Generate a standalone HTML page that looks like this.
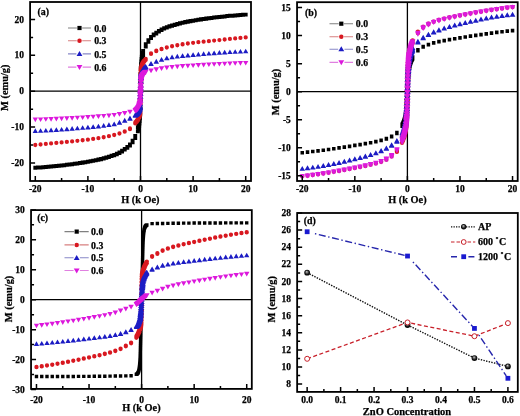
<!DOCTYPE html>
<html><head><meta charset="utf-8"><style>
html,body{margin:0;padding:0;background:#fff;width:520px;height:416px;overflow:hidden}
svg{display:block}
</style></head><body>
<svg width="520" height="416" viewBox="0 0 520 416">
<g font-family='"Liberation Serif", "Times New Roman", serif' font-weight="bold" fill="#000"><style>text{stroke:#000;stroke-width:0.25px}</style>
<rect width="520" height="416" fill="#fff"/>
<path d="M30.1 91.2H251M140.5 2V181" stroke="#000" stroke-width="1.3"/>
<path d="M33.35 165.78h3.9v3.9h-3.9zM35.98 165.61h3.9v3.9h-3.9zM38.61 165.42h3.9v3.9h-3.9zM41.24 165.22h3.9v3.9h-3.9zM43.87 165h3.9v3.9h-3.9zM46.5 164.77h3.9v3.9h-3.9zM49.13 164.53h3.9v3.9h-3.9zM51.76 164.28h3.9v3.9h-3.9zM54.39 164.01h3.9v3.9h-3.9zM57.02 163.73h3.9v3.9h-3.9zM59.65 163.44h3.9v3.9h-3.9zM62.28 163.13h3.9v3.9h-3.9zM64.91 162.82h3.9v3.9h-3.9zM67.54 162.48h3.9v3.9h-3.9zM70.17 162.14h3.9v3.9h-3.9zM72.8 161.77h3.9v3.9h-3.9zM75.43 161.39h3.9v3.9h-3.9zM78.06 160.99h3.9v3.9h-3.9zM80.69 160.58h3.9v3.9h-3.9zM83.32 160.14h3.9v3.9h-3.9zM85.95 159.69h3.9v3.9h-3.9zM88.58 159.21h3.9v3.9h-3.9zM91.21 158.72h3.9v3.9h-3.9zM93.84 158.19h3.9v3.9h-3.9zM96.47 157.61h3.9v3.9h-3.9zM99.1 156.97h3.9v3.9h-3.9zM101.73 156.27h3.9v3.9h-3.9zM104.36 155.51h3.9v3.9h-3.9zM106.99 154.69h3.9v3.9h-3.9zM109.62 153.82h3.9v3.9h-3.9zM112.25 152.89h3.9v3.9h-3.9zM114.88 151.79h3.9v3.9h-3.9zM117.51 150.46h3.9v3.9h-3.9zM120.14 148.78h3.9v3.9h-3.9zM122.77 147h3.9v3.9h-3.9zM125.4 145.12h3.9v3.9h-3.9zM128.03 142.41h3.9v3.9h-3.9zM130.66 138.68h3.9v3.9h-3.9zM133.29 133.96h3.9v3.9h-3.9zM135.92 125.47h3.9v3.9h-3.9zM136.45 121.52h3.9v3.9h-3.9zM136.71 119.12h3.9v3.9h-3.9zM136.97 116.29h3.9v3.9h-3.9zM137.24 112.56h3.9v3.9h-3.9zM137.5 106.32h3.9v3.9h-3.9zM137.76 98.22h3.9v3.9h-3.9zM138.02 89.25h3.9v3.9h-3.9zM138.29 80.29h3.9v3.9h-3.9zM138.55 72.18h3.9v3.9h-3.9zM138.81 65.94h3.9v3.9h-3.9zM139.08 62.21h3.9v3.9h-3.9zM139.34 59.38h3.9v3.9h-3.9zM139.6 56.98h3.9v3.9h-3.9zM139.87 54.76h3.9v3.9h-3.9zM140.13 53.03h3.9v3.9h-3.9zM140.39 51.81h3.9v3.9h-3.9zM140.65 50.8h3.9v3.9h-3.9zM141.18 49.09h3.9v3.9h-3.9zM143.81 42.33h3.9v3.9h-3.9zM146.44 38.27h3.9v3.9h-3.9zM149.07 34.89h3.9v3.9h-3.9zM151.7 32.55h3.9v3.9h-3.9zM154.33 30.8h3.9v3.9h-3.9zM156.96 29.01h3.9v3.9h-3.9zM159.59 27.48h3.9v3.9h-3.9zM162.22 26.25h3.9v3.9h-3.9zM164.85 25.23h3.9v3.9h-3.9zM167.48 24.33h3.9v3.9h-3.9zM170.11 23.48h3.9v3.9h-3.9zM172.74 22.68h3.9v3.9h-3.9zM175.37 21.94h3.9v3.9h-3.9zM178 21.27h3.9v3.9h-3.9zM180.63 20.65h3.9v3.9h-3.9zM183.26 20.09h3.9v3.9h-3.9zM185.89 19.58h3.9v3.9h-3.9zM188.52 19.09h3.9v3.9h-3.9zM191.15 18.63h3.9v3.9h-3.9zM193.78 18.18h3.9v3.9h-3.9zM196.41 17.75h3.9v3.9h-3.9zM199.04 17.34h3.9v3.9h-3.9zM201.67 16.95h3.9v3.9h-3.9zM204.3 16.58h3.9v3.9h-3.9zM206.93 16.22h3.9v3.9h-3.9zM209.56 15.88h3.9v3.9h-3.9zM212.19 15.56h3.9v3.9h-3.9zM214.82 15.24h3.9v3.9h-3.9zM217.45 14.94h3.9v3.9h-3.9zM220.08 14.66h3.9v3.9h-3.9zM222.71 14.38h3.9v3.9h-3.9zM225.34 14.12h3.9v3.9h-3.9zM227.97 13.87h3.9v3.9h-3.9zM230.6 13.63h3.9v3.9h-3.9zM233.23 13.41h3.9v3.9h-3.9zM235.86 13.2h3.9v3.9h-3.9zM238.49 13h3.9v3.9h-3.9zM241.12 12.82h3.9v3.9h-3.9zM243.75 12.66h3.9v3.9h-3.9zM33.35 165.84h3.9v3.9h-3.9zM35.98 165.68h3.9v3.9h-3.9zM38.61 165.5h3.9v3.9h-3.9zM41.24 165.3h3.9v3.9h-3.9zM43.87 165.09h3.9v3.9h-3.9zM46.5 164.87h3.9v3.9h-3.9zM49.13 164.63h3.9v3.9h-3.9zM51.76 164.38h3.9v3.9h-3.9zM54.39 164.12h3.9v3.9h-3.9zM57.02 163.84h3.9v3.9h-3.9zM59.65 163.56h3.9v3.9h-3.9zM62.28 163.26h3.9v3.9h-3.9zM64.91 162.94h3.9v3.9h-3.9zM67.54 162.62h3.9v3.9h-3.9zM70.17 162.28h3.9v3.9h-3.9zM72.8 161.92h3.9v3.9h-3.9zM75.43 161.55h3.9v3.9h-3.9zM78.06 161.16h3.9v3.9h-3.9zM80.69 160.75h3.9v3.9h-3.9zM83.32 160.32h3.9v3.9h-3.9zM85.95 159.87h3.9v3.9h-3.9zM88.58 159.41h3.9v3.9h-3.9zM91.21 158.92h3.9v3.9h-3.9zM93.84 158.41h3.9v3.9h-3.9zM96.47 157.85h3.9v3.9h-3.9zM99.1 157.23h3.9v3.9h-3.9zM101.73 156.56h3.9v3.9h-3.9zM104.36 155.82h3.9v3.9h-3.9zM106.99 155.02h3.9v3.9h-3.9zM109.62 154.17h3.9v3.9h-3.9zM112.25 153.27h3.9v3.9h-3.9zM114.88 152.25h3.9v3.9h-3.9zM117.51 151.02h3.9v3.9h-3.9zM120.14 149.49h3.9v3.9h-3.9zM122.77 147.7h3.9v3.9h-3.9zM125.4 145.95h3.9v3.9h-3.9zM128.03 143.61h3.9v3.9h-3.9zM130.66 140.23h3.9v3.9h-3.9zM133.29 136.17h3.9v3.9h-3.9zM135.92 129.41h3.9v3.9h-3.9zM136.45 127.7h3.9v3.9h-3.9zM136.71 126.69h3.9v3.9h-3.9zM136.97 125.47h3.9v3.9h-3.9zM137.24 123.74h3.9v3.9h-3.9zM137.5 121.52h3.9v3.9h-3.9zM137.76 119.12h3.9v3.9h-3.9zM138.02 116.29h3.9v3.9h-3.9zM138.29 112.56h3.9v3.9h-3.9zM138.55 106.32h3.9v3.9h-3.9zM138.81 98.22h3.9v3.9h-3.9zM139.08 89.25h3.9v3.9h-3.9zM139.34 80.29h3.9v3.9h-3.9zM139.6 72.18h3.9v3.9h-3.9zM139.87 65.94h3.9v3.9h-3.9zM140.13 62.21h3.9v3.9h-3.9zM140.39 59.38h3.9v3.9h-3.9zM140.65 56.98h3.9v3.9h-3.9zM141.18 53.03h3.9v3.9h-3.9zM143.81 44.54h3.9v3.9h-3.9zM146.44 39.82h3.9v3.9h-3.9zM149.07 36.09h3.9v3.9h-3.9zM151.7 33.38h3.9v3.9h-3.9zM154.33 31.5h3.9v3.9h-3.9zM156.96 29.72h3.9v3.9h-3.9zM159.59 28.04h3.9v3.9h-3.9zM162.22 26.71h3.9v3.9h-3.9zM164.85 25.61h3.9v3.9h-3.9zM167.48 24.68h3.9v3.9h-3.9zM170.11 23.81h3.9v3.9h-3.9zM172.74 22.99h3.9v3.9h-3.9zM175.37 22.23h3.9v3.9h-3.9zM178 21.53h3.9v3.9h-3.9zM180.63 20.89h3.9v3.9h-3.9zM183.26 20.31h3.9v3.9h-3.9zM185.89 19.78h3.9v3.9h-3.9zM188.52 19.29h3.9v3.9h-3.9zM191.15 18.81h3.9v3.9h-3.9zM193.78 18.36h3.9v3.9h-3.9zM196.41 17.92h3.9v3.9h-3.9zM199.04 17.51h3.9v3.9h-3.9zM201.67 17.11h3.9v3.9h-3.9zM204.3 16.73h3.9v3.9h-3.9zM206.93 16.36h3.9v3.9h-3.9zM209.56 16.02h3.9v3.9h-3.9zM212.19 15.68h3.9v3.9h-3.9zM214.82 15.37h3.9v3.9h-3.9zM217.45 15.06h3.9v3.9h-3.9zM220.08 14.77h3.9v3.9h-3.9zM222.71 14.49h3.9v3.9h-3.9zM225.34 14.22h3.9v3.9h-3.9zM227.97 13.97h3.9v3.9h-3.9zM230.6 13.73h3.9v3.9h-3.9zM233.23 13.5h3.9v3.9h-3.9zM235.86 13.28h3.9v3.9h-3.9zM238.49 13.08h3.9v3.9h-3.9zM241.12 12.89h3.9v3.9h-3.9zM243.75 12.72h3.9v3.9h-3.9z" fill="#000"/>
<path d="M33.2 144.94a2.1 2.1 0 1 0 4.2 0a2.1 2.1 0 1 0 -4.2 0zM38.46 144.43a2.1 2.1 0 1 0 4.2 0a2.1 2.1 0 1 0 -4.2 0zM43.72 143.91a2.1 2.1 0 1 0 4.2 0a2.1 2.1 0 1 0 -4.2 0zM48.98 143.38a2.1 2.1 0 1 0 4.2 0a2.1 2.1 0 1 0 -4.2 0zM54.24 142.84a2.1 2.1 0 1 0 4.2 0a2.1 2.1 0 1 0 -4.2 0zM59.5 142.31a2.1 2.1 0 1 0 4.2 0a2.1 2.1 0 1 0 -4.2 0zM64.76 141.79a2.1 2.1 0 1 0 4.2 0a2.1 2.1 0 1 0 -4.2 0zM70.02 141.27a2.1 2.1 0 1 0 4.2 0a2.1 2.1 0 1 0 -4.2 0zM75.28 140.74a2.1 2.1 0 1 0 4.2 0a2.1 2.1 0 1 0 -4.2 0zM80.54 140.16a2.1 2.1 0 1 0 4.2 0a2.1 2.1 0 1 0 -4.2 0zM85.8 139.53a2.1 2.1 0 1 0 4.2 0a2.1 2.1 0 1 0 -4.2 0zM91.06 138.82a2.1 2.1 0 1 0 4.2 0a2.1 2.1 0 1 0 -4.2 0zM96.32 138.02a2.1 2.1 0 1 0 4.2 0a2.1 2.1 0 1 0 -4.2 0zM101.58 137.11a2.1 2.1 0 1 0 4.2 0a2.1 2.1 0 1 0 -4.2 0zM106.84 136.05a2.1 2.1 0 1 0 4.2 0a2.1 2.1 0 1 0 -4.2 0zM112.1 134.82a2.1 2.1 0 1 0 4.2 0a2.1 2.1 0 1 0 -4.2 0zM117.36 133.25a2.1 2.1 0 1 0 4.2 0a2.1 2.1 0 1 0 -4.2 0zM122.62 131.25a2.1 2.1 0 1 0 4.2 0a2.1 2.1 0 1 0 -4.2 0zM127.88 128.41a2.1 2.1 0 1 0 4.2 0a2.1 2.1 0 1 0 -4.2 0zM133.14 122.41a2.1 2.1 0 1 0 4.2 0a2.1 2.1 0 1 0 -4.2 0zM133.4 122.15a2.1 2.1 0 1 0 4.2 0a2.1 2.1 0 1 0 -4.2 0zM133.67 121.88a2.1 2.1 0 1 0 4.2 0a2.1 2.1 0 1 0 -4.2 0zM133.93 121.6a2.1 2.1 0 1 0 4.2 0a2.1 2.1 0 1 0 -4.2 0zM134.19 121.3a2.1 2.1 0 1 0 4.2 0a2.1 2.1 0 1 0 -4.2 0zM134.46 120.97a2.1 2.1 0 1 0 4.2 0a2.1 2.1 0 1 0 -4.2 0zM134.72 120.61a2.1 2.1 0 1 0 4.2 0a2.1 2.1 0 1 0 -4.2 0zM134.98 120.21a2.1 2.1 0 1 0 4.2 0a2.1 2.1 0 1 0 -4.2 0zM135.24 119.78a2.1 2.1 0 1 0 4.2 0a2.1 2.1 0 1 0 -4.2 0zM135.51 119.3a2.1 2.1 0 1 0 4.2 0a2.1 2.1 0 1 0 -4.2 0zM135.77 118.75a2.1 2.1 0 1 0 4.2 0a2.1 2.1 0 1 0 -4.2 0zM136.03 118.11a2.1 2.1 0 1 0 4.2 0a2.1 2.1 0 1 0 -4.2 0zM136.3 117.38a2.1 2.1 0 1 0 4.2 0a2.1 2.1 0 1 0 -4.2 0zM136.56 116.61a2.1 2.1 0 1 0 4.2 0a2.1 2.1 0 1 0 -4.2 0zM136.82 115.68a2.1 2.1 0 1 0 4.2 0a2.1 2.1 0 1 0 -4.2 0zM136.93 115.19a2.1 2.1 0 1 0 4.2 0a2.1 2.1 0 1 0 -4.2 0zM137.03 114.6a2.1 2.1 0 1 0 4.2 0a2.1 2.1 0 1 0 -4.2 0zM137.14 113.88a2.1 2.1 0 1 0 4.2 0a2.1 2.1 0 1 0 -4.2 0zM137.24 113.02a2.1 2.1 0 1 0 4.2 0a2.1 2.1 0 1 0 -4.2 0zM137.35 112a2.1 2.1 0 1 0 4.2 0a2.1 2.1 0 1 0 -4.2 0zM137.45 109.07a2.1 2.1 0 1 0 4.2 0a2.1 2.1 0 1 0 -4.2 0zM137.56 104.01a2.1 2.1 0 1 0 4.2 0a2.1 2.1 0 1 0 -4.2 0zM137.66 99.09a2.1 2.1 0 1 0 4.2 0a2.1 2.1 0 1 0 -4.2 0zM137.77 95.1a2.1 2.1 0 1 0 4.2 0a2.1 2.1 0 1 0 -4.2 0zM137.87 91.2a2.1 2.1 0 1 0 4.2 0a2.1 2.1 0 1 0 -4.2 0zM137.98 87.3a2.1 2.1 0 1 0 4.2 0a2.1 2.1 0 1 0 -4.2 0zM138.08 83.31a2.1 2.1 0 1 0 4.2 0a2.1 2.1 0 1 0 -4.2 0zM138.19 78.39a2.1 2.1 0 1 0 4.2 0a2.1 2.1 0 1 0 -4.2 0zM138.29 73.33a2.1 2.1 0 1 0 4.2 0a2.1 2.1 0 1 0 -4.2 0zM138.4 70.4a2.1 2.1 0 1 0 4.2 0a2.1 2.1 0 1 0 -4.2 0zM138.51 69.38a2.1 2.1 0 1 0 4.2 0a2.1 2.1 0 1 0 -4.2 0zM138.61 68.52a2.1 2.1 0 1 0 4.2 0a2.1 2.1 0 1 0 -4.2 0zM138.72 67.8a2.1 2.1 0 1 0 4.2 0a2.1 2.1 0 1 0 -4.2 0zM138.82 67.21a2.1 2.1 0 1 0 4.2 0a2.1 2.1 0 1 0 -4.2 0zM138.93 66.72a2.1 2.1 0 1 0 4.2 0a2.1 2.1 0 1 0 -4.2 0zM139.03 66.3a2.1 2.1 0 1 0 4.2 0a2.1 2.1 0 1 0 -4.2 0zM139.14 65.95a2.1 2.1 0 1 0 4.2 0a2.1 2.1 0 1 0 -4.2 0zM139.24 65.63a2.1 2.1 0 1 0 4.2 0a2.1 2.1 0 1 0 -4.2 0zM139.35 65.33a2.1 2.1 0 1 0 4.2 0a2.1 2.1 0 1 0 -4.2 0zM139.45 65.02a2.1 2.1 0 1 0 4.2 0a2.1 2.1 0 1 0 -4.2 0zM139.56 64.72a2.1 2.1 0 1 0 4.2 0a2.1 2.1 0 1 0 -4.2 0zM139.66 64.43a2.1 2.1 0 1 0 4.2 0a2.1 2.1 0 1 0 -4.2 0zM139.77 64.15a2.1 2.1 0 1 0 4.2 0a2.1 2.1 0 1 0 -4.2 0zM139.87 63.9a2.1 2.1 0 1 0 4.2 0a2.1 2.1 0 1 0 -4.2 0zM139.98 63.65a2.1 2.1 0 1 0 4.2 0a2.1 2.1 0 1 0 -4.2 0zM140.24 63.1a2.1 2.1 0 1 0 4.2 0a2.1 2.1 0 1 0 -4.2 0zM140.5 62.62a2.1 2.1 0 1 0 4.2 0a2.1 2.1 0 1 0 -4.2 0zM140.77 62.19a2.1 2.1 0 1 0 4.2 0a2.1 2.1 0 1 0 -4.2 0zM141.03 61.79a2.1 2.1 0 1 0 4.2 0a2.1 2.1 0 1 0 -4.2 0zM141.29 61.43a2.1 2.1 0 1 0 4.2 0a2.1 2.1 0 1 0 -4.2 0zM141.56 61.1a2.1 2.1 0 1 0 4.2 0a2.1 2.1 0 1 0 -4.2 0zM141.82 60.8a2.1 2.1 0 1 0 4.2 0a2.1 2.1 0 1 0 -4.2 0zM142.08 60.52a2.1 2.1 0 1 0 4.2 0a2.1 2.1 0 1 0 -4.2 0zM142.34 60.25a2.1 2.1 0 1 0 4.2 0a2.1 2.1 0 1 0 -4.2 0zM142.61 59.99a2.1 2.1 0 1 0 4.2 0a2.1 2.1 0 1 0 -4.2 0zM142.87 59.74a2.1 2.1 0 1 0 4.2 0a2.1 2.1 0 1 0 -4.2 0zM143.13 59.48a2.1 2.1 0 1 0 4.2 0a2.1 2.1 0 1 0 -4.2 0zM143.4 59.21a2.1 2.1 0 1 0 4.2 0a2.1 2.1 0 1 0 -4.2 0zM143.66 58.93a2.1 2.1 0 1 0 4.2 0a2.1 2.1 0 1 0 -4.2 0zM148.92 53.25a2.1 2.1 0 1 0 4.2 0a2.1 2.1 0 1 0 -4.2 0zM154.18 50.71a2.1 2.1 0 1 0 4.2 0a2.1 2.1 0 1 0 -4.2 0zM159.44 48.8a2.1 2.1 0 1 0 4.2 0a2.1 2.1 0 1 0 -4.2 0zM164.7 47.32a2.1 2.1 0 1 0 4.2 0a2.1 2.1 0 1 0 -4.2 0zM169.96 46.13a2.1 2.1 0 1 0 4.2 0a2.1 2.1 0 1 0 -4.2 0zM175.22 45.1a2.1 2.1 0 1 0 4.2 0a2.1 2.1 0 1 0 -4.2 0zM180.48 44.21a2.1 2.1 0 1 0 4.2 0a2.1 2.1 0 1 0 -4.2 0zM185.74 43.43a2.1 2.1 0 1 0 4.2 0a2.1 2.1 0 1 0 -4.2 0zM191 42.74a2.1 2.1 0 1 0 4.2 0a2.1 2.1 0 1 0 -4.2 0zM196.26 42.12a2.1 2.1 0 1 0 4.2 0a2.1 2.1 0 1 0 -4.2 0zM201.52 41.55a2.1 2.1 0 1 0 4.2 0a2.1 2.1 0 1 0 -4.2 0zM206.78 41.02a2.1 2.1 0 1 0 4.2 0a2.1 2.1 0 1 0 -4.2 0zM212.04 40.51a2.1 2.1 0 1 0 4.2 0a2.1 2.1 0 1 0 -4.2 0zM217.3 39.99a2.1 2.1 0 1 0 4.2 0a2.1 2.1 0 1 0 -4.2 0zM222.56 39.45a2.1 2.1 0 1 0 4.2 0a2.1 2.1 0 1 0 -4.2 0zM227.82 38.92a2.1 2.1 0 1 0 4.2 0a2.1 2.1 0 1 0 -4.2 0zM233.08 38.39a2.1 2.1 0 1 0 4.2 0a2.1 2.1 0 1 0 -4.2 0zM238.34 37.87a2.1 2.1 0 1 0 4.2 0a2.1 2.1 0 1 0 -4.2 0zM243.6 37.36a2.1 2.1 0 1 0 4.2 0a2.1 2.1 0 1 0 -4.2 0zM33.2 145.04a2.1 2.1 0 1 0 4.2 0a2.1 2.1 0 1 0 -4.2 0zM38.46 144.53a2.1 2.1 0 1 0 4.2 0a2.1 2.1 0 1 0 -4.2 0zM43.72 144.01a2.1 2.1 0 1 0 4.2 0a2.1 2.1 0 1 0 -4.2 0zM48.98 143.48a2.1 2.1 0 1 0 4.2 0a2.1 2.1 0 1 0 -4.2 0zM54.24 142.95a2.1 2.1 0 1 0 4.2 0a2.1 2.1 0 1 0 -4.2 0zM59.5 142.41a2.1 2.1 0 1 0 4.2 0a2.1 2.1 0 1 0 -4.2 0zM64.76 141.89a2.1 2.1 0 1 0 4.2 0a2.1 2.1 0 1 0 -4.2 0zM70.02 141.38a2.1 2.1 0 1 0 4.2 0a2.1 2.1 0 1 0 -4.2 0zM75.28 140.85a2.1 2.1 0 1 0 4.2 0a2.1 2.1 0 1 0 -4.2 0zM80.54 140.28a2.1 2.1 0 1 0 4.2 0a2.1 2.1 0 1 0 -4.2 0zM85.8 139.66a2.1 2.1 0 1 0 4.2 0a2.1 2.1 0 1 0 -4.2 0zM91.06 138.97a2.1 2.1 0 1 0 4.2 0a2.1 2.1 0 1 0 -4.2 0zM96.32 138.19a2.1 2.1 0 1 0 4.2 0a2.1 2.1 0 1 0 -4.2 0zM101.58 137.3a2.1 2.1 0 1 0 4.2 0a2.1 2.1 0 1 0 -4.2 0zM106.84 136.27a2.1 2.1 0 1 0 4.2 0a2.1 2.1 0 1 0 -4.2 0zM112.1 135.08a2.1 2.1 0 1 0 4.2 0a2.1 2.1 0 1 0 -4.2 0zM117.36 133.6a2.1 2.1 0 1 0 4.2 0a2.1 2.1 0 1 0 -4.2 0zM122.62 131.69a2.1 2.1 0 1 0 4.2 0a2.1 2.1 0 1 0 -4.2 0zM127.88 129.15a2.1 2.1 0 1 0 4.2 0a2.1 2.1 0 1 0 -4.2 0zM133.14 123.47a2.1 2.1 0 1 0 4.2 0a2.1 2.1 0 1 0 -4.2 0zM133.4 123.19a2.1 2.1 0 1 0 4.2 0a2.1 2.1 0 1 0 -4.2 0zM133.67 122.92a2.1 2.1 0 1 0 4.2 0a2.1 2.1 0 1 0 -4.2 0zM133.93 122.66a2.1 2.1 0 1 0 4.2 0a2.1 2.1 0 1 0 -4.2 0zM134.19 122.41a2.1 2.1 0 1 0 4.2 0a2.1 2.1 0 1 0 -4.2 0zM134.46 122.15a2.1 2.1 0 1 0 4.2 0a2.1 2.1 0 1 0 -4.2 0zM134.72 121.88a2.1 2.1 0 1 0 4.2 0a2.1 2.1 0 1 0 -4.2 0zM134.98 121.6a2.1 2.1 0 1 0 4.2 0a2.1 2.1 0 1 0 -4.2 0zM135.24 121.3a2.1 2.1 0 1 0 4.2 0a2.1 2.1 0 1 0 -4.2 0zM135.51 120.97a2.1 2.1 0 1 0 4.2 0a2.1 2.1 0 1 0 -4.2 0zM135.77 120.61a2.1 2.1 0 1 0 4.2 0a2.1 2.1 0 1 0 -4.2 0zM136.03 120.21a2.1 2.1 0 1 0 4.2 0a2.1 2.1 0 1 0 -4.2 0zM136.3 119.78a2.1 2.1 0 1 0 4.2 0a2.1 2.1 0 1 0 -4.2 0zM136.56 119.3a2.1 2.1 0 1 0 4.2 0a2.1 2.1 0 1 0 -4.2 0zM136.82 118.75a2.1 2.1 0 1 0 4.2 0a2.1 2.1 0 1 0 -4.2 0zM136.93 118.5a2.1 2.1 0 1 0 4.2 0a2.1 2.1 0 1 0 -4.2 0zM137.03 118.25a2.1 2.1 0 1 0 4.2 0a2.1 2.1 0 1 0 -4.2 0zM137.14 117.97a2.1 2.1 0 1 0 4.2 0a2.1 2.1 0 1 0 -4.2 0zM137.24 117.68a2.1 2.1 0 1 0 4.2 0a2.1 2.1 0 1 0 -4.2 0zM137.35 117.38a2.1 2.1 0 1 0 4.2 0a2.1 2.1 0 1 0 -4.2 0zM137.45 117.07a2.1 2.1 0 1 0 4.2 0a2.1 2.1 0 1 0 -4.2 0zM137.56 116.77a2.1 2.1 0 1 0 4.2 0a2.1 2.1 0 1 0 -4.2 0zM137.66 116.45a2.1 2.1 0 1 0 4.2 0a2.1 2.1 0 1 0 -4.2 0zM137.77 116.1a2.1 2.1 0 1 0 4.2 0a2.1 2.1 0 1 0 -4.2 0zM137.87 115.68a2.1 2.1 0 1 0 4.2 0a2.1 2.1 0 1 0 -4.2 0zM137.98 115.19a2.1 2.1 0 1 0 4.2 0a2.1 2.1 0 1 0 -4.2 0zM138.08 114.6a2.1 2.1 0 1 0 4.2 0a2.1 2.1 0 1 0 -4.2 0zM138.19 113.88a2.1 2.1 0 1 0 4.2 0a2.1 2.1 0 1 0 -4.2 0zM138.29 113.02a2.1 2.1 0 1 0 4.2 0a2.1 2.1 0 1 0 -4.2 0zM138.4 112a2.1 2.1 0 1 0 4.2 0a2.1 2.1 0 1 0 -4.2 0zM138.51 109.07a2.1 2.1 0 1 0 4.2 0a2.1 2.1 0 1 0 -4.2 0zM138.61 104.01a2.1 2.1 0 1 0 4.2 0a2.1 2.1 0 1 0 -4.2 0zM138.72 99.09a2.1 2.1 0 1 0 4.2 0a2.1 2.1 0 1 0 -4.2 0zM138.82 95.1a2.1 2.1 0 1 0 4.2 0a2.1 2.1 0 1 0 -4.2 0zM138.93 91.2a2.1 2.1 0 1 0 4.2 0a2.1 2.1 0 1 0 -4.2 0zM139.03 87.3a2.1 2.1 0 1 0 4.2 0a2.1 2.1 0 1 0 -4.2 0zM139.14 83.31a2.1 2.1 0 1 0 4.2 0a2.1 2.1 0 1 0 -4.2 0zM139.24 78.39a2.1 2.1 0 1 0 4.2 0a2.1 2.1 0 1 0 -4.2 0zM139.35 73.33a2.1 2.1 0 1 0 4.2 0a2.1 2.1 0 1 0 -4.2 0zM139.45 70.4a2.1 2.1 0 1 0 4.2 0a2.1 2.1 0 1 0 -4.2 0zM139.56 69.38a2.1 2.1 0 1 0 4.2 0a2.1 2.1 0 1 0 -4.2 0zM139.66 68.52a2.1 2.1 0 1 0 4.2 0a2.1 2.1 0 1 0 -4.2 0zM139.77 67.8a2.1 2.1 0 1 0 4.2 0a2.1 2.1 0 1 0 -4.2 0zM139.87 67.21a2.1 2.1 0 1 0 4.2 0a2.1 2.1 0 1 0 -4.2 0zM139.98 66.72a2.1 2.1 0 1 0 4.2 0a2.1 2.1 0 1 0 -4.2 0zM140.24 65.79a2.1 2.1 0 1 0 4.2 0a2.1 2.1 0 1 0 -4.2 0zM140.5 65.02a2.1 2.1 0 1 0 4.2 0a2.1 2.1 0 1 0 -4.2 0zM140.77 64.29a2.1 2.1 0 1 0 4.2 0a2.1 2.1 0 1 0 -4.2 0zM141.03 63.65a2.1 2.1 0 1 0 4.2 0a2.1 2.1 0 1 0 -4.2 0zM141.29 63.1a2.1 2.1 0 1 0 4.2 0a2.1 2.1 0 1 0 -4.2 0zM141.56 62.62a2.1 2.1 0 1 0 4.2 0a2.1 2.1 0 1 0 -4.2 0zM141.82 62.19a2.1 2.1 0 1 0 4.2 0a2.1 2.1 0 1 0 -4.2 0zM142.08 61.79a2.1 2.1 0 1 0 4.2 0a2.1 2.1 0 1 0 -4.2 0zM142.34 61.43a2.1 2.1 0 1 0 4.2 0a2.1 2.1 0 1 0 -4.2 0zM142.61 61.1a2.1 2.1 0 1 0 4.2 0a2.1 2.1 0 1 0 -4.2 0zM142.87 60.8a2.1 2.1 0 1 0 4.2 0a2.1 2.1 0 1 0 -4.2 0zM143.13 60.52a2.1 2.1 0 1 0 4.2 0a2.1 2.1 0 1 0 -4.2 0zM143.4 60.25a2.1 2.1 0 1 0 4.2 0a2.1 2.1 0 1 0 -4.2 0zM143.66 59.99a2.1 2.1 0 1 0 4.2 0a2.1 2.1 0 1 0 -4.2 0zM148.92 53.99a2.1 2.1 0 1 0 4.2 0a2.1 2.1 0 1 0 -4.2 0zM154.18 51.15a2.1 2.1 0 1 0 4.2 0a2.1 2.1 0 1 0 -4.2 0zM159.44 49.15a2.1 2.1 0 1 0 4.2 0a2.1 2.1 0 1 0 -4.2 0zM164.7 47.58a2.1 2.1 0 1 0 4.2 0a2.1 2.1 0 1 0 -4.2 0zM169.96 46.35a2.1 2.1 0 1 0 4.2 0a2.1 2.1 0 1 0 -4.2 0zM175.22 45.29a2.1 2.1 0 1 0 4.2 0a2.1 2.1 0 1 0 -4.2 0zM180.48 44.38a2.1 2.1 0 1 0 4.2 0a2.1 2.1 0 1 0 -4.2 0zM185.74 43.58a2.1 2.1 0 1 0 4.2 0a2.1 2.1 0 1 0 -4.2 0zM191 42.87a2.1 2.1 0 1 0 4.2 0a2.1 2.1 0 1 0 -4.2 0zM196.26 42.24a2.1 2.1 0 1 0 4.2 0a2.1 2.1 0 1 0 -4.2 0zM201.52 41.66a2.1 2.1 0 1 0 4.2 0a2.1 2.1 0 1 0 -4.2 0zM206.78 41.13a2.1 2.1 0 1 0 4.2 0a2.1 2.1 0 1 0 -4.2 0zM212.04 40.61a2.1 2.1 0 1 0 4.2 0a2.1 2.1 0 1 0 -4.2 0zM217.3 40.09a2.1 2.1 0 1 0 4.2 0a2.1 2.1 0 1 0 -4.2 0zM222.56 39.56a2.1 2.1 0 1 0 4.2 0a2.1 2.1 0 1 0 -4.2 0zM227.82 39.02a2.1 2.1 0 1 0 4.2 0a2.1 2.1 0 1 0 -4.2 0zM233.08 38.49a2.1 2.1 0 1 0 4.2 0a2.1 2.1 0 1 0 -4.2 0zM238.34 37.97a2.1 2.1 0 1 0 4.2 0a2.1 2.1 0 1 0 -4.2 0zM243.6 37.46a2.1 2.1 0 1 0 4.2 0a2.1 2.1 0 1 0 -4.2 0z" fill="#d81820"/>
<path d="M35.3 128.35L37.94 132.91L32.66 132.91zM40.56 128.15L43.2 132.71L37.92 132.71zM45.82 127.9L48.46 132.46L43.18 132.46zM51.08 127.61L53.72 132.17L48.44 132.17zM56.34 127.28L58.98 131.84L53.7 131.84zM61.6 126.92L64.24 131.48L58.96 131.48zM66.86 126.53L69.5 131.09L64.22 131.09zM72.12 126.1L74.76 130.66L69.48 130.66zM77.38 125.66L80.02 130.22L74.74 130.22zM82.64 125.2L85.28 129.76L80 129.76zM87.9 124.73L90.54 129.29L85.26 129.29zM93.16 124.25L95.8 128.81L90.52 128.81zM98.42 123.73L101.06 128.29L95.78 128.29zM103.68 123.12L106.32 127.68L101.04 127.68zM108.94 122.37L111.58 126.93L106.3 126.93zM114.2 121.44L116.84 126L111.56 126zM119.46 119.87L122.1 124.43L116.82 124.43zM124.72 117.85L127.36 122.41L122.08 122.41zM129.98 115.58L132.62 120.14L127.34 120.14zM135.24 112.35L137.88 116.91L132.6 116.91zM135.5 112.13L138.14 116.69L132.86 116.69zM135.77 111.9L138.41 116.46L133.13 116.46zM136.03 111.66L138.67 116.22L133.39 116.22zM136.29 111.39L138.93 115.95L133.65 115.95zM136.56 111.11L139.19 115.67L133.92 115.67zM136.82 110.79L139.46 115.35L134.18 115.35zM137.08 110.45L139.72 115.01L134.44 115.01zM137.34 110.05L139.98 114.61L134.7 114.61zM137.61 109.61L140.25 114.17L134.97 114.17zM137.87 109.11L140.51 113.67L135.23 113.67zM138.13 108.55L140.77 113.11L135.49 113.11zM138.4 107.92L141.04 112.48L135.76 112.48zM138.66 107.32L141.3 111.88L136.02 111.88zM138.92 106.64L141.56 111.2L136.28 111.2zM139.03 106.29L141.67 110.85L136.39 110.85zM139.13 105.87L141.77 110.43L136.49 110.43zM139.24 105.35L141.88 109.91L136.6 109.91zM139.34 104.73L141.98 109.29L136.7 109.29zM139.45 103.98L142.09 108.54L136.81 108.54zM139.55 101.78L142.19 106.34L136.91 106.34zM139.66 97.97L142.3 102.53L137.02 102.53zM139.76 94.3L142.4 98.86L137.12 98.86zM139.87 91.39L142.51 95.95L137.23 95.95zM139.97 88.56L142.61 93.12L137.33 93.12zM140.08 85.73L142.72 90.29L137.44 90.29zM140.18 82.82L142.82 87.38L137.54 87.38zM140.29 79.15L142.93 83.71L137.65 83.71zM140.39 75.34L143.03 79.9L137.75 79.9zM140.5 73.14L143.14 77.7L137.86 77.7zM140.61 72.39L143.25 76.95L137.97 76.95zM140.71 71.77L143.35 76.33L138.07 76.33zM140.82 71.25L143.46 75.81L138.18 75.81zM140.92 70.83L143.56 75.39L138.28 75.39zM141.03 70.48L143.67 75.04L138.39 75.04zM141.13 70.18L143.77 74.74L138.49 74.74zM141.24 69.92L143.88 74.48L138.6 74.48zM141.34 69.68L143.98 74.24L138.7 74.24zM141.45 69.45L144.09 74.01L138.81 74.01zM141.55 69.2L144.19 73.76L138.91 73.76zM141.66 68.94L144.3 73.5L139.02 73.5zM141.76 68.69L144.4 73.25L139.12 73.25zM141.87 68.45L144.51 73.01L139.23 73.01zM141.97 68.23L144.61 72.79L139.33 72.79zM142.08 68.01L144.72 72.57L139.44 72.57zM142.34 67.51L144.98 72.07L139.7 72.07zM142.6 67.07L145.24 71.63L139.96 71.63zM142.87 66.67L145.51 71.23L140.23 71.23zM143.13 66.33L145.77 70.89L140.49 70.89zM143.39 66.01L146.03 70.57L140.75 70.57zM143.66 65.73L146.3 70.29L141.02 70.29zM143.92 65.46L146.56 70.02L141.28 70.02zM144.18 65.22L146.82 69.78L141.54 69.78zM144.44 64.99L147.08 69.55L141.81 69.55zM144.71 64.77L147.35 69.33L142.07 69.33zM144.97 64.57L147.61 69.13L142.33 69.13zM145.23 64.37L147.87 68.93L142.59 68.93zM145.5 64.18L148.14 68.74L142.86 68.74zM145.76 63.99L148.4 68.55L143.12 68.55zM151.02 61.03L153.66 65.59L148.38 65.59zM156.28 58.87L158.92 63.43L153.64 63.43zM161.54 56.88L164.18 61.44L158.9 61.44zM166.8 55.47L169.44 60.03L164.16 60.03zM172.06 54.58L174.7 59.14L169.42 59.14zM177.32 53.87L179.96 58.43L174.68 58.43zM182.58 53.28L185.22 57.84L179.94 57.84zM187.84 52.77L190.48 57.33L185.2 57.33zM193.1 52.29L195.74 56.85L190.46 56.85zM198.36 51.82L201 56.38L195.72 56.38zM203.62 51.37L206.26 55.93L200.98 55.93zM208.88 50.93L211.52 55.49L206.24 55.49zM214.14 50.51L216.78 55.07L211.5 55.07zM219.4 50.12L222.04 54.68L216.76 54.68zM224.66 49.77L227.3 54.33L222.02 54.33zM229.92 49.45L232.56 54.01L227.28 54.01zM235.18 49.16L237.82 53.72L232.54 53.72zM240.44 48.93L243.08 53.49L237.8 53.49zM245.7 48.74L248.34 53.3L243.06 53.3zM35.3 128.38L37.94 132.94L32.66 132.94zM40.56 128.19L43.2 132.75L37.92 132.75zM45.82 127.96L48.46 132.52L43.18 132.52zM51.08 127.67L53.72 132.23L48.44 132.23zM56.34 127.35L58.98 131.91L53.7 131.91zM61.6 127L64.24 131.56L58.96 131.56zM66.86 126.61L69.5 131.17L64.22 131.17zM72.12 126.19L74.76 130.75L69.48 130.75zM77.38 125.75L80.02 130.31L74.74 130.31zM82.64 125.3L85.28 129.86L80 129.86zM87.9 124.83L90.54 129.39L85.26 129.39zM93.16 124.35L95.8 128.91L90.52 128.91zM98.42 123.84L101.06 128.4L95.78 128.4zM103.68 123.25L106.32 127.81L101.04 127.81zM108.94 122.54L111.58 127.1L106.3 127.1zM114.2 121.65L116.84 126.21L111.56 126.21zM119.46 120.24L122.1 124.8L116.82 124.8zM124.72 118.25L127.36 122.81L122.08 122.81zM129.98 116.09L132.62 120.65L127.34 120.65zM135.24 113.13L137.88 117.69L132.6 117.69zM135.5 112.94L138.14 117.5L132.86 117.5zM135.77 112.75L138.41 117.31L133.13 117.31zM136.03 112.55L138.67 117.11L133.39 117.11zM136.29 112.35L138.93 116.91L133.65 116.91zM136.56 112.13L139.19 116.69L133.92 116.69zM136.82 111.9L139.46 116.46L134.18 116.46zM137.08 111.66L139.72 116.22L134.44 116.22zM137.34 111.39L139.98 115.95L134.7 115.95zM137.61 111.11L140.25 115.67L134.97 115.67zM137.87 110.79L140.51 115.35L135.23 115.35zM138.13 110.45L140.77 115.01L135.49 115.01zM138.4 110.05L141.04 114.61L135.76 114.61zM138.66 109.61L141.3 114.17L136.02 114.17zM138.92 109.11L141.56 113.67L136.28 113.67zM139.03 108.89L141.67 113.45L136.39 113.45zM139.13 108.67L141.77 113.23L136.49 113.23zM139.24 108.43L141.88 112.99L136.6 112.99zM139.34 108.18L141.98 112.74L136.7 112.74zM139.45 107.92L142.09 112.48L136.81 112.48zM139.55 107.67L142.19 112.23L136.91 112.23zM139.66 107.44L142.3 112L137.02 112zM139.76 107.2L142.4 111.76L137.12 111.76zM139.87 106.94L142.51 111.5L137.23 111.5zM139.97 106.64L142.61 111.2L137.33 111.2zM140.08 106.29L142.72 110.85L137.44 110.85zM140.18 105.87L142.82 110.43L137.54 110.43zM140.29 105.35L142.93 109.91L137.65 109.91zM140.39 104.73L143.03 109.29L137.75 109.29zM140.5 103.98L143.14 108.54L137.86 108.54zM140.61 101.78L143.25 106.34L137.97 106.34zM140.71 97.97L143.35 102.53L138.07 102.53zM140.82 94.3L143.46 98.86L138.18 98.86zM140.92 91.39L143.56 95.95L138.28 95.95zM141.03 88.56L143.67 93.12L138.39 93.12zM141.13 85.73L143.77 90.29L138.49 90.29zM141.24 82.82L143.88 87.38L138.6 87.38zM141.34 79.15L143.98 83.71L138.7 83.71zM141.45 75.34L144.09 79.9L138.81 79.9zM141.55 73.14L144.19 77.7L138.91 77.7zM141.66 72.39L144.3 76.95L139.02 76.95zM141.76 71.77L144.4 76.33L139.12 76.33zM141.87 71.25L144.51 75.81L139.23 75.81zM141.97 70.83L144.61 75.39L139.33 75.39zM142.08 70.48L144.72 75.04L139.44 75.04zM142.34 69.8L144.98 74.36L139.7 74.36zM142.6 69.2L145.24 73.76L139.96 73.76zM142.87 68.57L145.51 73.13L140.23 73.13zM143.13 68.01L145.77 72.57L140.49 72.57zM143.39 67.51L146.03 72.07L140.75 72.07zM143.66 67.07L146.3 71.63L141.02 71.63zM143.92 66.67L146.56 71.23L141.28 71.23zM144.18 66.33L146.82 70.89L141.54 70.89zM144.44 66.01L147.08 70.57L141.81 70.57zM144.71 65.73L147.35 70.29L142.07 70.29zM144.97 65.46L147.61 70.02L142.33 70.02zM145.23 65.22L147.87 69.78L142.59 69.78zM145.5 64.99L148.14 69.55L142.86 69.55zM145.76 64.77L148.4 69.33L143.12 69.33zM151.02 61.54L153.66 66.1L148.38 66.1zM156.28 59.27L158.92 63.83L153.64 63.83zM161.54 57.25L164.18 61.81L158.9 61.81zM166.8 55.68L169.44 60.24L164.16 60.24zM172.06 54.75L174.7 59.31L169.42 59.31zM177.32 54L179.96 58.56L174.68 58.56zM182.58 53.39L185.22 57.95L179.94 57.95zM187.84 52.87L190.48 57.43L185.2 57.43zM193.1 52.39L195.74 56.95L190.46 56.95zM198.36 51.92L201 56.48L195.72 56.48zM203.62 51.46L206.26 56.02L200.98 56.02zM208.88 51.02L211.52 55.58L206.24 55.58zM214.14 50.59L216.78 55.15L211.5 55.15zM219.4 50.2L222.04 54.76L216.76 54.76zM224.66 49.84L227.3 54.4L222.02 54.4zM229.92 49.51L232.56 54.07L227.28 54.07zM235.18 49.22L237.82 53.78L232.54 53.78zM240.44 48.97L243.08 53.53L237.8 53.53zM245.7 48.77L248.34 53.33L243.06 53.33z" fill="#1c1cc4"/>
<path d="M35.3 122.16L37.94 117.6L32.66 117.6zM40.56 122.01L43.2 117.45L37.92 117.45zM45.82 121.83L48.46 117.27L43.18 117.27zM51.08 121.62L53.72 117.06L48.44 117.06zM56.34 121.39L58.98 116.83L53.7 116.83zM61.6 121.13L64.24 116.57L58.96 116.57zM66.86 120.86L69.5 116.3L64.22 116.3zM72.12 120.57L74.76 116.01L69.48 116.01zM77.38 120.27L80.02 115.71L74.74 115.71zM82.64 119.95L85.28 115.39L80 115.39zM87.9 119.63L90.54 115.07L85.26 115.07zM93.16 119.29L95.8 114.73L90.52 114.73zM98.42 118.93L101.06 114.37L95.78 114.37zM103.68 118.51L106.32 113.95L101.04 113.95zM108.94 118.02L111.58 113.46L106.3 113.46zM114.2 117.44L116.84 112.88L111.56 112.88zM119.46 116.59L122.1 112.03L116.82 112.03zM124.72 115.54L127.36 110.98L122.08 110.98zM129.98 114.34L132.62 109.78L127.34 109.78zM135.24 112.78L137.88 108.22L132.6 108.22zM135.5 112.6L138.14 108.04L132.86 108.04zM135.77 112.4L138.41 107.84L133.13 107.84zM136.03 112.17L138.67 107.61L133.39 107.61zM136.29 111.94L138.93 107.38L133.65 107.38zM136.56 111.68L139.19 107.12L133.92 107.12zM136.82 111.41L139.46 106.85L134.18 106.85zM137.08 111.12L139.72 106.56L134.44 106.56zM137.34 110.78L139.98 106.22L134.7 106.22zM137.61 110.4L140.25 105.84L134.97 105.84zM137.87 109.97L140.51 105.41L135.23 105.41zM138.13 109.47L140.77 104.91L135.49 104.91zM138.4 108.9L141.04 104.34L135.76 104.34zM138.66 108.31L141.3 103.75L136.02 103.75zM138.92 107.61L141.56 103.05L136.28 103.05zM139.03 107.24L141.67 102.68L136.39 102.68zM139.13 106.81L141.77 102.25L136.49 102.25zM139.24 106.29L141.88 101.73L136.6 101.73zM139.34 105.68L141.98 101.12L136.7 101.12zM139.45 104.96L142.09 100.4L136.81 100.4zM139.55 103.12L142.19 98.56L136.91 98.56zM139.66 100.12L142.3 95.56L137.02 95.56zM139.76 97.43L142.4 92.87L137.12 92.87zM139.87 95.56L142.51 91L137.23 91zM139.97 93.84L142.61 89.28L137.33 89.28zM140.08 92.12L142.72 87.56L137.44 87.56zM140.18 90.25L142.82 85.69L137.54 85.69zM140.29 87.56L142.93 83L137.65 83zM140.39 84.56L143.03 80L137.75 80zM140.5 82.72L143.14 78.16L137.86 78.16zM140.61 82L143.25 77.44L137.97 77.44zM140.71 81.39L143.35 76.83L138.07 76.83zM140.82 80.87L143.46 76.31L138.18 76.31zM140.92 80.44L143.56 75.88L138.28 75.88zM141.03 80.07L143.67 75.51L138.39 75.51zM141.13 79.76L143.77 75.2L138.49 75.2zM141.24 79.49L143.88 74.93L138.6 74.93zM141.34 79.25L143.98 74.69L138.7 74.69zM141.45 79.01L144.09 74.45L138.81 74.45zM141.55 78.78L144.19 74.22L138.91 74.22zM141.66 78.54L144.3 73.98L139.02 73.98zM141.76 78.32L144.4 73.76L139.12 73.76zM141.87 78.11L144.51 73.55L139.23 73.55zM141.97 77.91L144.61 73.35L139.33 73.35zM142.08 77.71L144.72 73.15L139.44 73.15zM142.34 77.28L144.98 72.72L139.7 72.72zM142.6 76.9L145.24 72.34L139.96 72.34zM142.87 76.56L145.51 72L140.23 72zM143.13 76.27L145.77 71.71L140.49 71.71zM143.39 76L146.03 71.44L140.75 71.44zM143.66 75.74L146.3 71.18L141.02 71.18zM143.92 75.51L146.56 70.95L141.28 70.95zM144.18 75.28L146.82 70.72L141.54 70.72zM144.44 75.08L147.08 70.52L141.81 70.52zM144.71 74.9L147.35 70.34L142.07 70.34zM144.97 74.73L147.61 70.17L142.33 70.17zM145.23 74.59L147.87 70.03L142.59 70.03zM145.5 74.48L148.14 69.92L142.86 69.92zM145.76 74.37L148.4 69.81L143.12 69.81zM151.02 73.1L153.66 68.54L148.38 68.54zM156.28 71.93L158.92 67.37L153.64 67.37zM161.54 70.9L164.18 66.34L158.9 66.34zM166.8 70.11L169.44 65.55L164.16 65.55zM172.06 69.55L174.7 64.99L169.42 64.99zM177.32 69.08L179.96 64.52L174.68 64.52zM182.58 68.68L185.22 64.12L179.94 64.12zM187.84 68.32L190.48 63.76L185.2 63.76zM193.1 67.99L195.74 63.43L190.46 63.43zM198.36 67.67L201 63.11L195.72 63.11zM203.62 67.35L206.26 62.79L200.98 62.79zM208.88 67.05L211.52 62.49L206.24 62.49zM214.14 66.77L216.78 62.21L211.5 62.21zM219.4 66.5L222.04 61.94L216.76 61.94zM224.66 66.25L227.3 61.69L222.02 61.69zM229.92 66.02L232.56 61.46L227.28 61.46zM235.18 65.82L237.82 61.26L232.54 61.26zM240.44 65.64L243.08 61.08L237.8 61.08zM245.7 65.5L248.34 60.94L243.06 60.94zM35.3 122.18L37.94 117.62L32.66 117.62zM40.56 122.04L43.2 117.48L37.92 117.48zM45.82 121.86L48.46 117.3L43.18 117.3zM51.08 121.66L53.72 117.1L48.44 117.1zM56.34 121.43L58.98 116.87L53.7 116.87zM61.6 121.18L64.24 116.62L58.96 116.62zM66.86 120.91L69.5 116.35L64.22 116.35zM72.12 120.63L74.76 116.07L69.48 116.07zM77.38 120.33L80.02 115.77L74.74 115.77zM82.64 120.01L85.28 115.45L80 115.45zM87.9 119.69L90.54 115.13L85.26 115.13zM93.16 119.36L95.8 114.8L90.52 114.8zM98.42 119L101.06 114.44L95.78 114.44zM103.68 118.6L106.32 114.04L101.04 114.04zM108.94 118.13L111.58 113.57L106.3 113.57zM114.2 117.57L116.84 113.01L111.56 113.01zM119.46 116.78L122.1 112.22L116.82 112.22zM124.72 115.75L127.36 111.19L122.08 111.19zM129.98 114.58L132.62 110.02L127.34 110.02zM135.24 113.31L137.88 108.75L132.6 108.75zM135.5 113.2L138.14 108.64L132.86 108.64zM135.77 113.09L138.41 108.53L133.13 108.53zM136.03 112.95L138.67 108.39L133.39 108.39zM136.29 112.78L138.93 108.22L133.65 108.22zM136.56 112.6L139.19 108.04L133.92 108.04zM136.82 112.4L139.46 107.84L134.18 107.84zM137.08 112.17L139.72 107.61L134.44 107.61zM137.34 111.94L139.98 107.38L134.7 107.38zM137.61 111.68L140.25 107.12L134.97 107.12zM137.87 111.41L140.51 106.85L135.23 106.85zM138.13 111.12L140.77 106.56L135.49 106.56zM138.4 110.78L141.04 106.22L135.76 106.22zM138.66 110.4L141.3 105.84L136.02 105.84zM138.92 109.97L141.56 105.41L136.28 105.41zM139.03 109.77L141.67 105.21L136.39 105.21zM139.13 109.57L141.77 105.01L136.49 105.01zM139.24 109.36L141.88 104.8L136.6 104.8zM139.34 109.14L141.98 104.58L136.7 104.58zM139.45 108.9L142.09 104.34L136.81 104.34zM139.55 108.67L142.19 104.11L136.91 104.11zM139.66 108.43L142.3 103.87L137.02 103.87zM139.76 108.19L142.4 103.63L137.12 103.63zM139.87 107.92L142.51 103.36L137.23 103.36zM139.97 107.61L142.61 103.05L137.33 103.05zM140.08 107.24L142.72 102.68L137.44 102.68zM140.18 106.81L142.82 102.25L137.54 102.25zM140.29 106.29L142.93 101.73L137.65 101.73zM140.39 105.68L143.03 101.12L137.75 101.12zM140.5 104.96L143.14 100.4L137.86 100.4zM140.61 103.12L143.25 98.56L137.97 98.56zM140.71 100.12L143.35 95.56L138.07 95.56zM140.82 97.43L143.46 92.87L138.18 92.87zM140.92 95.56L143.56 91L138.28 91zM141.03 93.84L143.67 89.28L138.39 89.28zM141.13 92.12L143.77 87.56L138.49 87.56zM141.24 90.25L143.88 85.69L138.6 85.69zM141.34 87.56L143.98 83L138.7 83zM141.45 84.56L144.09 80L138.81 80zM141.55 82.72L144.19 78.16L138.91 78.16zM141.66 82L144.3 77.44L139.02 77.44zM141.76 81.39L144.4 76.83L139.12 76.83zM141.87 80.87L144.51 76.31L139.23 76.31zM141.97 80.44L144.61 75.88L139.33 75.88zM142.08 80.07L144.72 75.51L139.44 75.51zM142.34 79.37L144.98 74.81L139.7 74.81zM142.6 78.78L145.24 74.22L139.96 74.22zM142.87 78.21L145.51 73.65L140.23 73.65zM143.13 77.71L145.77 73.15L140.49 73.15zM143.39 77.28L146.03 72.72L140.75 72.72zM143.66 76.9L146.3 72.34L141.02 72.34zM143.92 76.56L146.56 72L141.28 72zM144.18 76.27L146.82 71.71L141.54 71.71zM144.44 76L147.08 71.44L141.81 71.44zM144.71 75.74L147.35 71.18L142.07 71.18zM144.97 75.51L147.61 70.95L142.33 70.95zM145.23 75.28L147.87 70.72L142.59 70.72zM145.5 75.08L148.14 70.52L142.86 70.52zM145.76 74.9L148.4 70.34L143.12 70.34zM151.02 73.34L153.66 68.78L148.38 68.78zM156.28 72.14L158.92 67.58L153.64 67.58zM161.54 71.09L164.18 66.53L158.9 66.53zM166.8 70.24L169.44 65.68L164.16 65.68zM172.06 69.66L174.7 65.1L169.42 65.1zM177.32 69.17L179.96 64.61L174.68 64.61zM182.58 68.75L185.22 64.19L179.94 64.19zM187.84 68.39L190.48 63.83L185.2 63.83zM193.1 68.05L195.74 63.49L190.46 63.49zM198.36 67.73L201 63.17L195.72 63.17zM203.62 67.41L206.26 62.85L200.98 62.85zM208.88 67.11L211.52 62.55L206.24 62.55zM214.14 66.82L216.78 62.26L211.5 62.26zM219.4 66.55L222.04 61.99L216.76 61.99zM224.66 66.29L227.3 61.73L222.02 61.73zM229.92 66.06L232.56 61.5L227.28 61.5zM235.18 65.85L237.82 61.29L232.54 61.29zM240.44 65.67L243.08 61.11L237.8 61.11zM245.7 65.52L248.34 60.96L243.06 60.96z" fill="#dc18dc"/>
<rect x="30.1" y="2" width="220.9" height="179" fill="none" stroke="#000" stroke-width="1.8"/>
<path d="M35.3 181v-5M87.9 181v-5M140.5 181v-5M193.1 181v-5M245.7 181v-5M61.6 181v-3M114.2 181v-3M166.8 181v-3M219.4 181v-3M30.1 162.92h5M30.1 127.06h5M30.1 91.2h5M30.1 55.34h5M30.1 19.48h5M30.1 144.99h3M30.1 109.13h3M30.1 73.27h3M30.1 37.41h3" stroke="#000" stroke-width="1.5" fill="none"/>
<text x="35.3" y="192.3" font-size="9.5" text-anchor="middle" >-20</text>
<text x="87.9" y="192.3" font-size="9.5" text-anchor="middle" >-10</text>
<text x="140.5" y="192.3" font-size="9.5" text-anchor="middle" >0</text>
<text x="193.1" y="192.3" font-size="9.5" text-anchor="middle" >10</text>
<text x="245.7" y="192.3" font-size="9.5" text-anchor="middle" >20</text>
<text x="23.9" y="166.02" font-size="9.5" text-anchor="end" >-20</text>
<text x="23.9" y="130.16" font-size="9.5" text-anchor="end" >-10</text>
<text x="23.9" y="94.3" font-size="9.5" text-anchor="end" >0</text>
<text x="23.9" y="58.44" font-size="9.5" text-anchor="end" >10</text>
<text x="23.9" y="22.58" font-size="9.5" text-anchor="end" >20</text>
<text x="140.3" y="203.4" font-size="10.3" text-anchor="middle" >H (k Oe)</text>
<text transform="translate(7.7,87.7) rotate(-90)" font-size="10.4" text-anchor="middle">M (emu/g)</text>
<text x="37.5" y="15.2" font-size="9.9" text-anchor="start" >(a)</text>
<path d="M68 28H76.9M82.1 28H91" stroke="#808080" stroke-width="1.1"/>
<path d="M77.4 25.9h4.2v4.2h-4.2z" fill="#000"/>
<text x="94.2" y="31.6" font-size="9.8" text-anchor="start" >0.0</text>
<path d="M68 40.8H76.75M82.25 40.8H91" stroke="#d88080" stroke-width="1.1"/>
<path d="M77.25 40.8a2.25 2.25 0 1 0 4.5 0a2.25 2.25 0 1 0 -4.5 0z" fill="#d81820"/>
<text x="94.2" y="44.4" font-size="9.8" text-anchor="start" >0.3</text>
<path d="M68 53.9H76.35M82.65 53.9H91" stroke="#8888c8" stroke-width="1.1"/>
<path d="M79.5 50.98L82.42 56.02L76.58 56.02z" fill="#1c1cc4"/>
<text x="94.2" y="57.5" font-size="9.8" text-anchor="start" >0.5</text>
<path d="M68 67.1H76.35M82.65 67.1H91" stroke="#e080e0" stroke-width="1.1"/>
<path d="M79.5 70.02L82.42 64.98L76.58 64.98z" fill="#dc18dc"/>
<text x="94.2" y="70.7" font-size="9.8" text-anchor="start" >0.6</text>
<path d="M297.05 91.65H517.7M407.4 2.2V181" stroke="#000" stroke-width="1.3"/>
<path d="M300.51 150.92h3.5v3.5h-3.5zM305.77 150.35h3.5v3.5h-3.5zM311.02 149.73h3.5v3.5h-3.5zM316.28 149.08h3.5v3.5h-3.5zM321.54 148.38h3.5v3.5h-3.5zM326.79 147.66h3.5v3.5h-3.5zM332.05 146.9h3.5v3.5h-3.5zM337.31 146.11h3.5v3.5h-3.5zM342.57 145.29h3.5v3.5h-3.5zM347.82 144.46h3.5v3.5h-3.5zM353.08 143.6h3.5v3.5h-3.5zM358.34 142.75h3.5v3.5h-3.5zM363.59 141.87h3.5v3.5h-3.5zM368.85 140.91h3.5v3.5h-3.5zM374.11 139.81h3.5v3.5h-3.5zM379.37 138.5h3.5v3.5h-3.5zM384.62 136.78h3.5v3.5h-3.5zM389.88 134.47h3.5v3.5h-3.5zM395.14 130.81h3.5v3.5h-3.5zM400.39 122.84h3.5v3.5h-3.5zM400.66 122.36h3.5v3.5h-3.5zM400.92 121.84h3.5v3.5h-3.5zM401.18 121.28h3.5v3.5h-3.5zM401.44 120.68h3.5v3.5h-3.5zM401.71 120.03h3.5v3.5h-3.5zM401.97 119.32h3.5v3.5h-3.5zM402.23 118.54h3.5v3.5h-3.5zM402.5 117.68h3.5v3.5h-3.5zM402.76 116.73h3.5v3.5h-3.5zM403.02 115.67h3.5v3.5h-3.5zM403.28 114.48h3.5v3.5h-3.5zM403.55 113.08h3.5v3.5h-3.5zM403.81 111.37h3.5v3.5h-3.5zM404.07 109.28h3.5v3.5h-3.5zM404.18 108.31h3.5v3.5h-3.5zM404.28 107.27h3.5v3.5h-3.5zM404.39 106.07h3.5v3.5h-3.5zM404.49 104.43h3.5v3.5h-3.5zM404.6 102.42h3.5v3.5h-3.5zM404.7 100.17h3.5v3.5h-3.5zM404.81 97.8h3.5v3.5h-3.5zM404.91 95.39h3.5v3.5h-3.5zM405.02 92.67h3.5v3.5h-3.5zM405.12 89.9h3.5v3.5h-3.5zM405.23 87.13h3.5v3.5h-3.5zM405.33 84.41h3.5v3.5h-3.5zM405.44 82h3.5v3.5h-3.5zM405.54 79.63h3.5v3.5h-3.5zM405.65 77.38h3.5v3.5h-3.5zM405.76 75.37h3.5v3.5h-3.5zM405.86 73.73h3.5v3.5h-3.5zM405.97 72.53h3.5v3.5h-3.5zM406.07 71.49h3.5v3.5h-3.5zM406.18 70.52h3.5v3.5h-3.5zM406.28 69.63h3.5v3.5h-3.5zM406.39 68.81h3.5v3.5h-3.5zM406.49 68.06h3.5v3.5h-3.5zM406.6 67.36h3.5v3.5h-3.5zM406.7 66.72h3.5v3.5h-3.5zM406.81 66.13h3.5v3.5h-3.5zM406.91 65.58h3.5v3.5h-3.5zM407.02 65.06h3.5v3.5h-3.5zM407.12 64.58h3.5v3.5h-3.5zM407.23 64.13h3.5v3.5h-3.5zM407.49 63.07h3.5v3.5h-3.5zM407.75 62.12h3.5v3.5h-3.5zM408.02 61.26h3.5v3.5h-3.5zM408.28 60.48h3.5v3.5h-3.5zM408.54 59.77h3.5v3.5h-3.5zM408.8 59.12h3.5v3.5h-3.5zM409.07 58.52h3.5v3.5h-3.5zM409.33 57.96h3.5v3.5h-3.5zM409.59 57.44h3.5v3.5h-3.5zM409.86 56.96h3.5v3.5h-3.5zM410.12 56.52h3.5v3.5h-3.5zM410.38 56.11h3.5v3.5h-3.5zM410.64 55.72h3.5v3.5h-3.5zM410.91 55.34h3.5v3.5h-3.5zM416.16 47.98h3.5v3.5h-3.5zM421.42 44.82h3.5v3.5h-3.5zM426.68 42.63h3.5v3.5h-3.5zM431.93 41.02h3.5v3.5h-3.5zM437.19 39.76h3.5v3.5h-3.5zM442.45 38.69h3.5v3.5h-3.5zM447.71 37.75h3.5v3.5h-3.5zM452.96 36.88h3.5v3.5h-3.5zM458.22 36.03h3.5v3.5h-3.5zM463.48 35.17h3.5v3.5h-3.5zM468.73 34.34h3.5v3.5h-3.5zM473.99 33.53h3.5v3.5h-3.5zM479.25 32.75h3.5v3.5h-3.5zM484.5 32h3.5v3.5h-3.5zM489.76 31.27h3.5v3.5h-3.5zM495.02 30.59h3.5v3.5h-3.5zM500.28 29.94h3.5v3.5h-3.5zM505.53 29.33h3.5v3.5h-3.5zM510.79 28.77h3.5v3.5h-3.5zM300.51 151.03h3.5v3.5h-3.5zM305.77 150.47h3.5v3.5h-3.5zM311.02 149.86h3.5v3.5h-3.5zM316.28 149.21h3.5v3.5h-3.5zM321.54 148.53h3.5v3.5h-3.5zM326.79 147.8h3.5v3.5h-3.5zM332.05 147.05h3.5v3.5h-3.5zM337.31 146.27h3.5v3.5h-3.5zM342.57 145.46h3.5v3.5h-3.5zM347.82 144.63h3.5v3.5h-3.5zM353.08 143.77h3.5v3.5h-3.5zM358.34 142.92h3.5v3.5h-3.5zM363.59 142.05h3.5v3.5h-3.5zM368.85 141.11h3.5v3.5h-3.5zM374.11 140.04h3.5v3.5h-3.5zM379.37 138.78h3.5v3.5h-3.5zM384.62 137.17h3.5v3.5h-3.5zM389.88 134.98h3.5v3.5h-3.5zM395.14 131.82h3.5v3.5h-3.5zM400.39 124.46h3.5v3.5h-3.5zM400.66 124.08h3.5v3.5h-3.5zM400.92 123.69h3.5v3.5h-3.5zM401.18 123.28h3.5v3.5h-3.5zM401.44 122.84h3.5v3.5h-3.5zM401.71 122.36h3.5v3.5h-3.5zM401.97 121.84h3.5v3.5h-3.5zM402.23 121.28h3.5v3.5h-3.5zM402.5 120.68h3.5v3.5h-3.5zM402.76 120.03h3.5v3.5h-3.5zM403.02 119.32h3.5v3.5h-3.5zM403.28 118.54h3.5v3.5h-3.5zM403.55 117.68h3.5v3.5h-3.5zM403.81 116.73h3.5v3.5h-3.5zM404.07 115.67h3.5v3.5h-3.5zM404.18 115.22h3.5v3.5h-3.5zM404.28 114.74h3.5v3.5h-3.5zM404.39 114.22h3.5v3.5h-3.5zM404.49 113.67h3.5v3.5h-3.5zM404.6 113.08h3.5v3.5h-3.5zM404.7 112.44h3.5v3.5h-3.5zM404.81 111.74h3.5v3.5h-3.5zM404.91 110.99h3.5v3.5h-3.5zM405.02 110.17h3.5v3.5h-3.5zM405.12 109.28h3.5v3.5h-3.5zM405.23 108.31h3.5v3.5h-3.5zM405.33 107.27h3.5v3.5h-3.5zM405.44 106.07h3.5v3.5h-3.5zM405.54 104.43h3.5v3.5h-3.5zM405.65 102.42h3.5v3.5h-3.5zM405.76 100.17h3.5v3.5h-3.5zM405.86 97.8h3.5v3.5h-3.5zM405.97 95.39h3.5v3.5h-3.5zM406.07 92.67h3.5v3.5h-3.5zM406.18 89.9h3.5v3.5h-3.5zM406.28 87.13h3.5v3.5h-3.5zM406.39 84.41h3.5v3.5h-3.5zM406.49 82h3.5v3.5h-3.5zM406.6 79.63h3.5v3.5h-3.5zM406.7 77.38h3.5v3.5h-3.5zM406.81 75.37h3.5v3.5h-3.5zM406.91 73.73h3.5v3.5h-3.5zM407.02 72.53h3.5v3.5h-3.5zM407.12 71.49h3.5v3.5h-3.5zM407.23 70.52h3.5v3.5h-3.5zM407.49 68.43h3.5v3.5h-3.5zM407.75 66.72h3.5v3.5h-3.5zM408.02 65.32h3.5v3.5h-3.5zM408.28 64.13h3.5v3.5h-3.5zM408.54 63.07h3.5v3.5h-3.5zM408.8 62.12h3.5v3.5h-3.5zM409.07 61.26h3.5v3.5h-3.5zM409.33 60.48h3.5v3.5h-3.5zM409.59 59.77h3.5v3.5h-3.5zM409.86 59.12h3.5v3.5h-3.5zM410.12 58.52h3.5v3.5h-3.5zM410.38 57.96h3.5v3.5h-3.5zM410.64 57.44h3.5v3.5h-3.5zM410.91 56.96h3.5v3.5h-3.5zM416.16 48.99h3.5v3.5h-3.5zM421.42 45.33h3.5v3.5h-3.5zM426.68 43.02h3.5v3.5h-3.5zM431.93 41.3h3.5v3.5h-3.5zM437.19 39.99h3.5v3.5h-3.5zM442.45 38.89h3.5v3.5h-3.5zM447.71 37.93h3.5v3.5h-3.5zM452.96 37.05h3.5v3.5h-3.5zM458.22 36.2h3.5v3.5h-3.5zM463.48 35.34h3.5v3.5h-3.5zM468.73 34.51h3.5v3.5h-3.5zM473.99 33.69h3.5v3.5h-3.5zM479.25 32.9h3.5v3.5h-3.5zM484.5 32.14h3.5v3.5h-3.5zM489.76 31.42h3.5v3.5h-3.5zM495.02 30.72h3.5v3.5h-3.5zM500.28 30.07h3.5v3.5h-3.5zM505.53 29.45h3.5v3.5h-3.5zM510.79 28.88h3.5v3.5h-3.5z" fill="#000"/>
<path d="M394.69 150.36a2.2 2.2 0 1 0 4.4 0a2.2 2.2 0 1 0 -4.4 0zM399.94 140.25a2.2 2.2 0 1 0 4.4 0a2.2 2.2 0 1 0 -4.4 0zM400.21 139.6a2.2 2.2 0 1 0 4.4 0a2.2 2.2 0 1 0 -4.4 0zM400.47 138.92a2.2 2.2 0 1 0 4.4 0a2.2 2.2 0 1 0 -4.4 0zM400.73 138.19a2.2 2.2 0 1 0 4.4 0a2.2 2.2 0 1 0 -4.4 0zM400.99 137.42a2.2 2.2 0 1 0 4.4 0a2.2 2.2 0 1 0 -4.4 0zM401.26 136.57a2.2 2.2 0 1 0 4.4 0a2.2 2.2 0 1 0 -4.4 0zM401.52 135.65a2.2 2.2 0 1 0 4.4 0a2.2 2.2 0 1 0 -4.4 0zM401.78 134.63a2.2 2.2 0 1 0 4.4 0a2.2 2.2 0 1 0 -4.4 0zM402.05 133.5a2.2 2.2 0 1 0 4.4 0a2.2 2.2 0 1 0 -4.4 0zM402.31 132.25a2.2 2.2 0 1 0 4.4 0a2.2 2.2 0 1 0 -4.4 0zM402.57 130.87a2.2 2.2 0 1 0 4.4 0a2.2 2.2 0 1 0 -4.4 0zM402.83 129.19a2.2 2.2 0 1 0 4.4 0a2.2 2.2 0 1 0 -4.4 0zM403.1 127a2.2 2.2 0 1 0 4.4 0a2.2 2.2 0 1 0 -4.4 0zM403.36 124.25a2.2 2.2 0 1 0 4.4 0a2.2 2.2 0 1 0 -4.4 0zM403.62 120.89a2.2 2.2 0 1 0 4.4 0a2.2 2.2 0 1 0 -4.4 0zM403.73 119.36a2.2 2.2 0 1 0 4.4 0a2.2 2.2 0 1 0 -4.4 0zM403.83 117.72a2.2 2.2 0 1 0 4.4 0a2.2 2.2 0 1 0 -4.4 0zM403.94 115.89a2.2 2.2 0 1 0 4.4 0a2.2 2.2 0 1 0 -4.4 0zM404.04 113.42a2.2 2.2 0 1 0 4.4 0a2.2 2.2 0 1 0 -4.4 0zM404.15 110.4a2.2 2.2 0 1 0 4.4 0a2.2 2.2 0 1 0 -4.4 0zM404.25 107.03a2.2 2.2 0 1 0 4.4 0a2.2 2.2 0 1 0 -4.4 0zM404.36 103.5a2.2 2.2 0 1 0 4.4 0a2.2 2.2 0 1 0 -4.4 0zM404.46 99.88a2.2 2.2 0 1 0 4.4 0a2.2 2.2 0 1 0 -4.4 0zM404.57 95.81a2.2 2.2 0 1 0 4.4 0a2.2 2.2 0 1 0 -4.4 0zM404.67 91.65a2.2 2.2 0 1 0 4.4 0a2.2 2.2 0 1 0 -4.4 0zM404.78 87.49a2.2 2.2 0 1 0 4.4 0a2.2 2.2 0 1 0 -4.4 0zM404.88 83.42a2.2 2.2 0 1 0 4.4 0a2.2 2.2 0 1 0 -4.4 0zM404.99 79.8a2.2 2.2 0 1 0 4.4 0a2.2 2.2 0 1 0 -4.4 0zM405.09 76.27a2.2 2.2 0 1 0 4.4 0a2.2 2.2 0 1 0 -4.4 0zM405.2 72.9a2.2 2.2 0 1 0 4.4 0a2.2 2.2 0 1 0 -4.4 0zM405.31 69.88a2.2 2.2 0 1 0 4.4 0a2.2 2.2 0 1 0 -4.4 0zM405.41 67.41a2.2 2.2 0 1 0 4.4 0a2.2 2.2 0 1 0 -4.4 0zM405.52 65.58a2.2 2.2 0 1 0 4.4 0a2.2 2.2 0 1 0 -4.4 0zM405.62 63.94a2.2 2.2 0 1 0 4.4 0a2.2 2.2 0 1 0 -4.4 0zM405.73 62.41a2.2 2.2 0 1 0 4.4 0a2.2 2.2 0 1 0 -4.4 0zM405.83 60.99a2.2 2.2 0 1 0 4.4 0a2.2 2.2 0 1 0 -4.4 0zM405.94 59.67a2.2 2.2 0 1 0 4.4 0a2.2 2.2 0 1 0 -4.4 0zM406.04 58.45a2.2 2.2 0 1 0 4.4 0a2.2 2.2 0 1 0 -4.4 0zM406.15 57.33a2.2 2.2 0 1 0 4.4 0a2.2 2.2 0 1 0 -4.4 0zM406.25 56.3a2.2 2.2 0 1 0 4.4 0a2.2 2.2 0 1 0 -4.4 0zM406.36 55.36a2.2 2.2 0 1 0 4.4 0a2.2 2.2 0 1 0 -4.4 0zM406.46 54.51a2.2 2.2 0 1 0 4.4 0a2.2 2.2 0 1 0 -4.4 0zM406.57 53.74a2.2 2.2 0 1 0 4.4 0a2.2 2.2 0 1 0 -4.4 0zM406.67 53.05a2.2 2.2 0 1 0 4.4 0a2.2 2.2 0 1 0 -4.4 0zM406.78 52.43a2.2 2.2 0 1 0 4.4 0a2.2 2.2 0 1 0 -4.4 0zM407.04 51.05a2.2 2.2 0 1 0 4.4 0a2.2 2.2 0 1 0 -4.4 0zM407.3 49.8a2.2 2.2 0 1 0 4.4 0a2.2 2.2 0 1 0 -4.4 0zM407.57 48.67a2.2 2.2 0 1 0 4.4 0a2.2 2.2 0 1 0 -4.4 0zM407.83 47.65a2.2 2.2 0 1 0 4.4 0a2.2 2.2 0 1 0 -4.4 0zM408.09 46.73a2.2 2.2 0 1 0 4.4 0a2.2 2.2 0 1 0 -4.4 0zM408.35 45.88a2.2 2.2 0 1 0 4.4 0a2.2 2.2 0 1 0 -4.4 0zM408.62 45.11a2.2 2.2 0 1 0 4.4 0a2.2 2.2 0 1 0 -4.4 0zM408.88 44.38a2.2 2.2 0 1 0 4.4 0a2.2 2.2 0 1 0 -4.4 0zM409.14 43.7a2.2 2.2 0 1 0 4.4 0a2.2 2.2 0 1 0 -4.4 0zM409.41 43.05a2.2 2.2 0 1 0 4.4 0a2.2 2.2 0 1 0 -4.4 0zM409.67 42.42a2.2 2.2 0 1 0 4.4 0a2.2 2.2 0 1 0 -4.4 0zM409.93 41.78a2.2 2.2 0 1 0 4.4 0a2.2 2.2 0 1 0 -4.4 0zM410.19 41.16a2.2 2.2 0 1 0 4.4 0a2.2 2.2 0 1 0 -4.4 0zM410.46 40.55a2.2 2.2 0 1 0 4.4 0a2.2 2.2 0 1 0 -4.4 0zM415.71 31.62a2.2 2.2 0 1 0 4.4 0a2.2 2.2 0 1 0 -4.4 0zM394.69 151.68a2.2 2.2 0 1 0 4.4 0a2.2 2.2 0 1 0 -4.4 0zM399.94 142.75a2.2 2.2 0 1 0 4.4 0a2.2 2.2 0 1 0 -4.4 0zM400.21 142.14a2.2 2.2 0 1 0 4.4 0a2.2 2.2 0 1 0 -4.4 0zM400.47 141.52a2.2 2.2 0 1 0 4.4 0a2.2 2.2 0 1 0 -4.4 0zM400.73 140.88a2.2 2.2 0 1 0 4.4 0a2.2 2.2 0 1 0 -4.4 0zM400.99 140.25a2.2 2.2 0 1 0 4.4 0a2.2 2.2 0 1 0 -4.4 0zM401.26 139.6a2.2 2.2 0 1 0 4.4 0a2.2 2.2 0 1 0 -4.4 0zM401.52 138.92a2.2 2.2 0 1 0 4.4 0a2.2 2.2 0 1 0 -4.4 0zM401.78 138.19a2.2 2.2 0 1 0 4.4 0a2.2 2.2 0 1 0 -4.4 0zM402.05 137.42a2.2 2.2 0 1 0 4.4 0a2.2 2.2 0 1 0 -4.4 0zM402.31 136.57a2.2 2.2 0 1 0 4.4 0a2.2 2.2 0 1 0 -4.4 0zM402.57 135.65a2.2 2.2 0 1 0 4.4 0a2.2 2.2 0 1 0 -4.4 0zM402.83 134.63a2.2 2.2 0 1 0 4.4 0a2.2 2.2 0 1 0 -4.4 0zM403.1 133.5a2.2 2.2 0 1 0 4.4 0a2.2 2.2 0 1 0 -4.4 0zM403.36 132.25a2.2 2.2 0 1 0 4.4 0a2.2 2.2 0 1 0 -4.4 0zM403.62 130.87a2.2 2.2 0 1 0 4.4 0a2.2 2.2 0 1 0 -4.4 0zM403.73 130.25a2.2 2.2 0 1 0 4.4 0a2.2 2.2 0 1 0 -4.4 0zM403.83 129.56a2.2 2.2 0 1 0 4.4 0a2.2 2.2 0 1 0 -4.4 0zM403.94 128.79a2.2 2.2 0 1 0 4.4 0a2.2 2.2 0 1 0 -4.4 0zM404.04 127.94a2.2 2.2 0 1 0 4.4 0a2.2 2.2 0 1 0 -4.4 0zM404.15 127a2.2 2.2 0 1 0 4.4 0a2.2 2.2 0 1 0 -4.4 0zM404.25 125.97a2.2 2.2 0 1 0 4.4 0a2.2 2.2 0 1 0 -4.4 0zM404.36 124.85a2.2 2.2 0 1 0 4.4 0a2.2 2.2 0 1 0 -4.4 0zM404.46 123.63a2.2 2.2 0 1 0 4.4 0a2.2 2.2 0 1 0 -4.4 0zM404.57 122.31a2.2 2.2 0 1 0 4.4 0a2.2 2.2 0 1 0 -4.4 0zM404.67 120.89a2.2 2.2 0 1 0 4.4 0a2.2 2.2 0 1 0 -4.4 0zM404.78 119.36a2.2 2.2 0 1 0 4.4 0a2.2 2.2 0 1 0 -4.4 0zM404.88 117.72a2.2 2.2 0 1 0 4.4 0a2.2 2.2 0 1 0 -4.4 0zM404.99 115.89a2.2 2.2 0 1 0 4.4 0a2.2 2.2 0 1 0 -4.4 0zM405.09 113.42a2.2 2.2 0 1 0 4.4 0a2.2 2.2 0 1 0 -4.4 0zM405.2 110.4a2.2 2.2 0 1 0 4.4 0a2.2 2.2 0 1 0 -4.4 0zM405.31 107.03a2.2 2.2 0 1 0 4.4 0a2.2 2.2 0 1 0 -4.4 0zM405.41 103.5a2.2 2.2 0 1 0 4.4 0a2.2 2.2 0 1 0 -4.4 0zM405.52 99.88a2.2 2.2 0 1 0 4.4 0a2.2 2.2 0 1 0 -4.4 0zM405.62 95.81a2.2 2.2 0 1 0 4.4 0a2.2 2.2 0 1 0 -4.4 0zM405.73 91.65a2.2 2.2 0 1 0 4.4 0a2.2 2.2 0 1 0 -4.4 0zM405.83 87.49a2.2 2.2 0 1 0 4.4 0a2.2 2.2 0 1 0 -4.4 0zM405.94 83.42a2.2 2.2 0 1 0 4.4 0a2.2 2.2 0 1 0 -4.4 0zM406.04 79.8a2.2 2.2 0 1 0 4.4 0a2.2 2.2 0 1 0 -4.4 0zM406.15 76.27a2.2 2.2 0 1 0 4.4 0a2.2 2.2 0 1 0 -4.4 0zM406.25 72.9a2.2 2.2 0 1 0 4.4 0a2.2 2.2 0 1 0 -4.4 0zM406.36 69.88a2.2 2.2 0 1 0 4.4 0a2.2 2.2 0 1 0 -4.4 0zM406.46 67.41a2.2 2.2 0 1 0 4.4 0a2.2 2.2 0 1 0 -4.4 0zM406.57 65.58a2.2 2.2 0 1 0 4.4 0a2.2 2.2 0 1 0 -4.4 0zM406.67 63.94a2.2 2.2 0 1 0 4.4 0a2.2 2.2 0 1 0 -4.4 0zM406.78 62.41a2.2 2.2 0 1 0 4.4 0a2.2 2.2 0 1 0 -4.4 0zM407.04 59.05a2.2 2.2 0 1 0 4.4 0a2.2 2.2 0 1 0 -4.4 0zM407.3 56.3a2.2 2.2 0 1 0 4.4 0a2.2 2.2 0 1 0 -4.4 0zM407.57 54.11a2.2 2.2 0 1 0 4.4 0a2.2 2.2 0 1 0 -4.4 0zM407.83 52.43a2.2 2.2 0 1 0 4.4 0a2.2 2.2 0 1 0 -4.4 0zM408.09 51.05a2.2 2.2 0 1 0 4.4 0a2.2 2.2 0 1 0 -4.4 0zM408.35 49.8a2.2 2.2 0 1 0 4.4 0a2.2 2.2 0 1 0 -4.4 0zM408.62 48.67a2.2 2.2 0 1 0 4.4 0a2.2 2.2 0 1 0 -4.4 0zM408.88 47.65a2.2 2.2 0 1 0 4.4 0a2.2 2.2 0 1 0 -4.4 0zM409.14 46.73a2.2 2.2 0 1 0 4.4 0a2.2 2.2 0 1 0 -4.4 0zM409.41 45.88a2.2 2.2 0 1 0 4.4 0a2.2 2.2 0 1 0 -4.4 0zM409.67 45.11a2.2 2.2 0 1 0 4.4 0a2.2 2.2 0 1 0 -4.4 0zM409.93 44.38a2.2 2.2 0 1 0 4.4 0a2.2 2.2 0 1 0 -4.4 0zM410.19 43.7a2.2 2.2 0 1 0 4.4 0a2.2 2.2 0 1 0 -4.4 0zM410.46 43.05a2.2 2.2 0 1 0 4.4 0a2.2 2.2 0 1 0 -4.4 0zM415.71 32.94a2.2 2.2 0 1 0 4.4 0a2.2 2.2 0 1 0 -4.4 0z" fill="#d81820"/>
<path d="M299.96 176.2a2.3 2.3 0 1 0 4.6 0a2.3 2.3 0 1 0 -4.6 0zM305.22 175.58a2.3 2.3 0 1 0 4.6 0a2.3 2.3 0 1 0 -4.6 0zM310.47 174.9a2.3 2.3 0 1 0 4.6 0a2.3 2.3 0 1 0 -4.6 0zM315.73 174.16a2.3 2.3 0 1 0 4.6 0a2.3 2.3 0 1 0 -4.6 0zM320.99 173.36a2.3 2.3 0 1 0 4.6 0a2.3 2.3 0 1 0 -4.6 0zM326.24 172.52a2.3 2.3 0 1 0 4.6 0a2.3 2.3 0 1 0 -4.6 0zM331.5 171.63a2.3 2.3 0 1 0 4.6 0a2.3 2.3 0 1 0 -4.6 0zM336.76 170.71a2.3 2.3 0 1 0 4.6 0a2.3 2.3 0 1 0 -4.6 0zM342.02 169.75a2.3 2.3 0 1 0 4.6 0a2.3 2.3 0 1 0 -4.6 0zM347.27 168.76a2.3 2.3 0 1 0 4.6 0a2.3 2.3 0 1 0 -4.6 0zM352.53 167.75a2.3 2.3 0 1 0 4.6 0a2.3 2.3 0 1 0 -4.6 0zM357.79 166.75a2.3 2.3 0 1 0 4.6 0a2.3 2.3 0 1 0 -4.6 0zM363.04 165.71a2.3 2.3 0 1 0 4.6 0a2.3 2.3 0 1 0 -4.6 0zM368.3 164.55a2.3 2.3 0 1 0 4.6 0a2.3 2.3 0 1 0 -4.6 0zM373.56 163.18a2.3 2.3 0 1 0 4.6 0a2.3 2.3 0 1 0 -4.6 0zM378.81 161.5a2.3 2.3 0 1 0 4.6 0a2.3 2.3 0 1 0 -4.6 0zM384.07 159.08a2.3 2.3 0 1 0 4.6 0a2.3 2.3 0 1 0 -4.6 0zM389.33 155.7a2.3 2.3 0 1 0 4.6 0a2.3 2.3 0 1 0 -4.6 0zM420.87 26.85a2.3 2.3 0 1 0 4.6 0a2.3 2.3 0 1 0 -4.6 0zM426.13 23.66a2.3 2.3 0 1 0 4.6 0a2.3 2.3 0 1 0 -4.6 0zM431.38 21.43a2.3 2.3 0 1 0 4.6 0a2.3 2.3 0 1 0 -4.6 0zM436.64 19.83a2.3 2.3 0 1 0 4.6 0a2.3 2.3 0 1 0 -4.6 0zM441.9 18.51a2.3 2.3 0 1 0 4.6 0a2.3 2.3 0 1 0 -4.6 0zM447.16 17.38a2.3 2.3 0 1 0 4.6 0a2.3 2.3 0 1 0 -4.6 0zM452.41 16.35a2.3 2.3 0 1 0 4.6 0a2.3 2.3 0 1 0 -4.6 0zM457.67 15.35a2.3 2.3 0 1 0 4.6 0a2.3 2.3 0 1 0 -4.6 0zM462.93 14.34a2.3 2.3 0 1 0 4.6 0a2.3 2.3 0 1 0 -4.6 0zM468.18 13.36a2.3 2.3 0 1 0 4.6 0a2.3 2.3 0 1 0 -4.6 0zM473.44 12.4a2.3 2.3 0 1 0 4.6 0a2.3 2.3 0 1 0 -4.6 0zM478.7 11.49a2.3 2.3 0 1 0 4.6 0a2.3 2.3 0 1 0 -4.6 0zM483.95 10.61a2.3 2.3 0 1 0 4.6 0a2.3 2.3 0 1 0 -4.6 0zM489.21 9.78a2.3 2.3 0 1 0 4.6 0a2.3 2.3 0 1 0 -4.6 0zM494.47 8.99a2.3 2.3 0 1 0 4.6 0a2.3 2.3 0 1 0 -4.6 0zM499.73 8.26a2.3 2.3 0 1 0 4.6 0a2.3 2.3 0 1 0 -4.6 0zM504.98 7.59a2.3 2.3 0 1 0 4.6 0a2.3 2.3 0 1 0 -4.6 0zM510.24 6.99a2.3 2.3 0 1 0 4.6 0a2.3 2.3 0 1 0 -4.6 0zM299.96 176.31a2.3 2.3 0 1 0 4.6 0a2.3 2.3 0 1 0 -4.6 0zM305.22 175.71a2.3 2.3 0 1 0 4.6 0a2.3 2.3 0 1 0 -4.6 0zM310.47 175.04a2.3 2.3 0 1 0 4.6 0a2.3 2.3 0 1 0 -4.6 0zM315.73 174.31a2.3 2.3 0 1 0 4.6 0a2.3 2.3 0 1 0 -4.6 0zM320.99 173.52a2.3 2.3 0 1 0 4.6 0a2.3 2.3 0 1 0 -4.6 0zM326.24 172.69a2.3 2.3 0 1 0 4.6 0a2.3 2.3 0 1 0 -4.6 0zM331.5 171.81a2.3 2.3 0 1 0 4.6 0a2.3 2.3 0 1 0 -4.6 0zM336.76 170.9a2.3 2.3 0 1 0 4.6 0a2.3 2.3 0 1 0 -4.6 0zM342.02 169.94a2.3 2.3 0 1 0 4.6 0a2.3 2.3 0 1 0 -4.6 0zM347.27 168.96a2.3 2.3 0 1 0 4.6 0a2.3 2.3 0 1 0 -4.6 0zM352.53 167.95a2.3 2.3 0 1 0 4.6 0a2.3 2.3 0 1 0 -4.6 0zM357.79 166.95a2.3 2.3 0 1 0 4.6 0a2.3 2.3 0 1 0 -4.6 0zM363.04 165.92a2.3 2.3 0 1 0 4.6 0a2.3 2.3 0 1 0 -4.6 0zM368.3 164.79a2.3 2.3 0 1 0 4.6 0a2.3 2.3 0 1 0 -4.6 0zM373.56 163.47a2.3 2.3 0 1 0 4.6 0a2.3 2.3 0 1 0 -4.6 0zM378.81 161.87a2.3 2.3 0 1 0 4.6 0a2.3 2.3 0 1 0 -4.6 0zM384.07 159.64a2.3 2.3 0 1 0 4.6 0a2.3 2.3 0 1 0 -4.6 0zM389.33 156.45a2.3 2.3 0 1 0 4.6 0a2.3 2.3 0 1 0 -4.6 0zM420.87 27.6a2.3 2.3 0 1 0 4.6 0a2.3 2.3 0 1 0 -4.6 0zM426.13 24.22a2.3 2.3 0 1 0 4.6 0a2.3 2.3 0 1 0 -4.6 0zM431.38 21.8a2.3 2.3 0 1 0 4.6 0a2.3 2.3 0 1 0 -4.6 0zM436.64 20.12a2.3 2.3 0 1 0 4.6 0a2.3 2.3 0 1 0 -4.6 0zM441.9 18.75a2.3 2.3 0 1 0 4.6 0a2.3 2.3 0 1 0 -4.6 0zM447.16 17.59a2.3 2.3 0 1 0 4.6 0a2.3 2.3 0 1 0 -4.6 0zM452.41 16.55a2.3 2.3 0 1 0 4.6 0a2.3 2.3 0 1 0 -4.6 0zM457.67 15.55a2.3 2.3 0 1 0 4.6 0a2.3 2.3 0 1 0 -4.6 0zM462.93 14.54a2.3 2.3 0 1 0 4.6 0a2.3 2.3 0 1 0 -4.6 0zM468.18 13.55a2.3 2.3 0 1 0 4.6 0a2.3 2.3 0 1 0 -4.6 0zM473.44 12.59a2.3 2.3 0 1 0 4.6 0a2.3 2.3 0 1 0 -4.6 0zM478.7 11.67a2.3 2.3 0 1 0 4.6 0a2.3 2.3 0 1 0 -4.6 0zM483.95 10.78a2.3 2.3 0 1 0 4.6 0a2.3 2.3 0 1 0 -4.6 0zM489.21 9.94a2.3 2.3 0 1 0 4.6 0a2.3 2.3 0 1 0 -4.6 0zM494.47 9.14a2.3 2.3 0 1 0 4.6 0a2.3 2.3 0 1 0 -4.6 0zM499.73 8.4a2.3 2.3 0 1 0 4.6 0a2.3 2.3 0 1 0 -4.6 0zM504.98 7.72a2.3 2.3 0 1 0 4.6 0a2.3 2.3 0 1 0 -4.6 0zM510.24 7.1a2.3 2.3 0 1 0 4.6 0a2.3 2.3 0 1 0 -4.6 0z" fill="#d81aa8"/>
<path d="M302.26 165.89L305.01 170.64L299.51 170.64zM307.52 165.33L310.27 170.08L304.77 170.08zM312.77 164.66L315.52 169.41L310.02 169.41zM318.03 163.88L320.78 168.63L315.28 168.63zM323.29 163L326.04 167.75L320.54 167.75zM328.54 162.04L331.29 166.79L325.79 166.79zM333.8 161.01L336.55 165.76L331.05 165.76zM339.06 159.92L341.81 164.67L336.31 164.67zM344.32 158.77L347.07 163.52L341.57 163.52zM349.57 157.57L352.32 162.32L346.82 162.32zM354.83 156.35L357.58 161.1L352.08 161.1zM360.09 155.04L362.84 159.79L357.34 159.79zM365.34 153.58L368.09 158.33L362.59 158.33zM370.6 151.95L373.35 156.7L367.85 156.7zM375.86 150.13L378.61 154.88L373.11 154.88zM381.12 148.07L383.87 152.82L378.37 152.82zM386.37 145.53L389.12 150.28L383.62 150.28zM391.63 142.34L394.38 147.09L388.88 147.09zM396.89 137.96L399.64 142.71L394.14 142.71zM402.14 130.4L404.89 135.15L399.39 135.15zM402.41 129.8L405.16 134.55L399.66 134.55zM402.67 129.15L405.42 133.9L399.92 133.9zM402.93 128.45L405.68 133.2L400.18 133.2zM403.19 127.69L405.94 132.44L400.44 132.44zM403.46 126.86L406.21 131.61L400.71 131.61zM403.72 125.95L406.47 130.7L400.97 130.7zM403.98 124.95L406.73 129.7L401.23 129.7zM404.25 123.87L407 128.62L401.5 128.62zM404.51 122.69L407.26 127.44L401.76 127.44zM404.77 121.4L407.52 126.15L402.02 126.15zM405.03 119.86L407.78 124.61L402.28 124.61zM405.3 117.89L408.05 122.64L402.55 122.64zM405.56 115.47L408.31 120.22L402.81 120.22zM405.82 112.54L408.57 117.29L403.07 117.29zM405.93 111.22L408.68 115.97L403.18 115.97zM406.03 109.81L408.78 114.56L403.28 114.56zM406.14 108.24L408.89 112.99L403.39 112.99zM406.24 106.19L408.99 110.94L403.49 110.94zM406.35 103.72L409.1 108.47L403.6 108.47zM406.45 100.99L409.2 105.74L403.7 105.74zM406.56 98.16L409.31 102.91L403.81 102.91zM406.66 95.28L409.41 100.03L403.91 100.03zM406.77 92.12L409.52 96.87L404.02 96.87zM406.87 88.9L409.62 93.65L404.12 93.65zM406.98 85.68L409.73 90.43L404.23 90.43zM407.08 82.52L409.83 87.27L404.33 87.27zM407.19 79.64L409.94 84.39L404.44 84.39zM407.29 76.81L410.04 81.56L404.54 81.56zM407.4 74.08L410.15 78.83L404.65 78.83zM407.51 71.61L410.26 76.36L404.76 76.36zM407.61 69.56L410.36 74.31L404.86 74.31zM407.72 67.99L410.47 72.74L404.97 72.74zM407.82 66.58L410.57 71.33L405.07 71.33zM407.93 65.26L410.68 70.01L405.18 70.01zM408.03 64.03L410.78 68.78L405.28 68.78zM408.14 62.88L410.89 67.63L405.39 67.63zM408.24 61.81L410.99 66.56L405.49 66.56zM408.35 60.82L411.1 65.57L405.6 65.57zM408.45 59.91L411.2 64.66L405.7 64.66zM408.56 59.07L411.31 63.82L405.81 63.82zM408.66 58.3L411.41 63.05L405.91 63.05zM408.77 57.6L411.52 62.35L406.02 62.35zM408.87 56.97L411.62 61.72L406.12 61.72zM408.98 56.4L411.73 61.15L406.23 61.15zM409.24 55.11L411.99 59.86L406.49 59.86zM409.5 53.93L412.25 58.68L406.75 58.68zM409.77 52.85L412.52 57.6L407.02 57.6zM410.03 51.85L412.78 56.6L407.28 56.6zM410.29 50.94L413.04 55.69L407.54 55.69zM410.55 50.11L413.3 54.86L407.8 54.86zM410.82 49.35L413.57 54.1L408.07 54.1zM411.08 48.65L413.83 53.4L408.33 53.4zM411.34 48L414.09 52.75L408.59 52.75zM411.61 47.4L414.36 52.15L408.86 52.15zM411.87 46.84L414.62 51.59L409.12 51.59zM412.13 46.32L414.88 51.07L409.38 51.07zM412.39 45.82L415.14 50.57L409.64 50.57zM412.66 45.34L415.41 50.09L409.91 50.09zM417.91 38.8L420.66 43.55L415.16 43.55zM423.17 34.77L425.92 39.52L420.42 39.52zM428.43 31.71L431.18 36.46L425.68 36.46zM433.68 29.29L436.43 34.04L430.93 34.04zM438.94 27.29L441.69 32.04L436.19 32.04zM444.2 25.51L446.95 30.26L441.45 30.26zM449.46 23.92L452.21 28.67L446.71 28.67zM454.71 22.49L457.46 27.24L451.96 27.24zM459.97 21.2L462.72 25.95L457.22 25.95zM465.23 19.98L467.98 24.73L462.48 24.73zM470.48 18.8L473.23 23.55L467.73 23.55zM475.74 17.66L478.49 22.41L472.99 22.41zM481 16.58L483.75 21.33L478.25 21.33zM486.25 15.56L489 20.31L483.5 20.31zM491.51 14.62L494.26 19.37L488.76 19.37zM496.77 13.76L499.52 18.51L494.02 18.51zM502.03 13L504.78 17.75L499.28 17.75zM507.28 12.35L510.03 17.1L504.53 17.1zM512.54 11.81L515.29 16.56L509.79 16.56zM302.26 165.99L305.01 170.74L299.51 170.74zM307.52 165.45L310.27 170.2L304.77 170.2zM312.77 164.8L315.52 169.55L310.02 169.55zM318.03 164.04L320.78 168.79L315.28 168.79zM323.29 163.18L326.04 167.93L320.54 167.93zM328.54 162.24L331.29 166.99L325.79 166.99zM333.8 161.22L336.55 165.97L331.05 165.97zM339.06 160.14L341.81 164.89L336.31 164.89zM344.32 159L347.07 163.75L341.57 163.75zM349.57 157.82L352.32 162.57L346.82 162.57zM354.83 156.6L357.58 161.35L352.08 161.35zM360.09 155.31L362.84 160.06L357.34 160.06zM365.34 153.88L368.09 158.63L362.59 158.63zM370.6 152.29L373.35 157.04L367.85 157.04zM375.86 150.51L378.61 155.26L373.11 155.26zM381.12 148.51L383.87 153.26L378.37 153.26zM386.37 146.09L389.12 150.84L383.62 150.84zM391.63 143.03L394.38 147.78L388.88 147.78zM396.89 139L399.64 143.75L394.14 143.75zM402.14 132.46L404.89 137.21L399.39 137.21zM402.41 131.98L405.16 136.73L399.66 136.73zM402.67 131.48L405.42 136.23L399.92 136.23zM402.93 130.96L405.68 135.71L400.18 135.71zM403.19 130.4L405.94 135.15L400.44 135.15zM403.46 129.8L406.21 134.55L400.71 134.55zM403.72 129.15L406.47 133.9L400.97 133.9zM403.98 128.45L406.73 133.2L401.23 133.2zM404.25 127.69L407 132.44L401.5 132.44zM404.51 126.86L407.26 131.61L401.76 131.61zM404.77 125.95L407.52 130.7L402.02 130.7zM405.03 124.95L407.78 129.7L402.28 129.7zM405.3 123.87L408.05 128.62L402.55 128.62zM405.56 122.69L408.31 127.44L402.81 127.44zM405.82 121.4L408.57 126.15L403.07 126.15zM405.93 120.83L408.68 125.58L403.18 125.58zM406.03 120.2L408.78 124.95L403.28 124.95zM406.14 119.5L408.89 124.25L403.39 124.25zM406.24 118.73L408.99 123.48L403.49 123.48zM406.35 117.89L409.1 122.64L403.6 122.64zM406.45 116.98L409.2 121.73L403.7 121.73zM406.56 115.99L409.31 120.74L403.81 120.74zM406.66 114.92L409.41 119.67L403.91 119.67zM406.77 113.77L409.52 118.52L404.02 118.52zM406.87 112.54L409.62 117.29L404.12 117.29zM406.98 111.22L409.73 115.97L404.23 115.97zM407.08 109.81L409.83 114.56L404.33 114.56zM407.19 108.24L409.94 112.99L404.44 112.99zM407.29 106.19L410.04 110.94L404.54 110.94zM407.4 103.72L410.15 108.47L404.65 108.47zM407.51 100.99L410.26 105.74L404.76 105.74zM407.61 98.16L410.36 102.91L404.86 102.91zM407.72 95.28L410.47 100.03L404.97 100.03zM407.82 92.12L410.57 96.87L405.07 96.87zM407.93 88.9L410.68 93.65L405.18 93.65zM408.03 85.68L410.78 90.43L405.28 90.43zM408.14 82.52L410.89 87.27L405.39 87.27zM408.24 79.64L410.99 84.39L405.49 84.39zM408.35 76.81L411.1 81.56L405.6 81.56zM408.45 74.08L411.2 78.83L405.7 78.83zM408.56 71.61L411.31 76.36L405.81 76.36zM408.66 69.56L411.41 74.31L405.91 74.31zM408.77 67.99L411.52 72.74L406.02 72.74zM408.87 66.58L411.62 71.33L406.12 71.33zM408.98 65.26L411.73 70.01L406.23 70.01zM409.24 62.33L411.99 67.08L406.49 67.08zM409.5 59.91L412.25 64.66L406.75 64.66zM409.77 57.94L412.52 62.69L407.02 62.69zM410.03 56.4L412.78 61.15L407.28 61.15zM410.29 55.11L413.04 59.86L407.54 59.86zM410.55 53.93L413.3 58.68L407.8 58.68zM410.82 52.85L413.57 57.6L408.07 57.6zM411.08 51.85L413.83 56.6L408.33 56.6zM411.34 50.94L414.09 55.69L408.59 55.69zM411.61 50.11L414.36 54.86L408.86 54.86zM411.87 49.35L414.62 54.1L409.12 54.1zM412.13 48.65L414.88 53.4L409.38 53.4zM412.39 48L415.14 52.75L409.64 52.75zM412.66 47.4L415.41 52.15L409.91 52.15zM417.91 39.84L420.66 44.59L415.16 44.59zM423.17 35.46L425.92 40.21L420.42 40.21zM428.43 32.27L431.18 37.02L425.68 37.02zM433.68 29.73L436.43 34.48L430.93 34.48zM438.94 27.67L441.69 32.42L436.19 32.42zM444.2 25.85L446.95 30.6L441.45 30.6zM449.46 24.22L452.21 28.97L446.71 28.97zM454.71 22.76L457.46 27.51L451.96 27.51zM459.97 21.45L462.72 26.2L457.22 26.2zM465.23 20.23L467.98 24.98L462.48 24.98zM470.48 19.03L473.23 23.78L467.73 23.78zM475.74 17.88L478.49 22.63L472.99 22.63zM481 16.79L483.75 21.54L478.25 21.54zM486.25 15.76L489 20.51L483.5 20.51zM491.51 14.8L494.26 19.55L488.76 19.55zM496.77 13.92L499.52 18.67L494.02 18.67zM502.03 13.14L504.78 17.89L499.28 17.89zM507.28 12.47L510.03 17.22L504.53 17.22zM512.54 11.91L515.29 16.66L509.79 16.66z" fill="#1c1cc4"/>
<path d="M302.26 178.95L305.01 174.2L299.51 174.2zM307.52 178.31L310.27 173.56L304.77 173.56zM312.77 177.62L315.52 172.87L310.02 172.87zM318.03 176.85L320.78 172.1L315.28 172.1zM323.29 176.03L326.04 171.28L320.54 171.28zM328.54 175.16L331.29 170.41L325.79 170.41zM333.8 174.25L336.55 169.5L331.05 169.5zM339.06 173.29L341.81 168.54L336.31 168.54zM344.32 172.29L347.07 167.54L341.57 167.54zM349.57 171.27L352.32 166.52L346.82 166.52zM354.83 170.21L357.58 165.46L352.08 165.46zM360.09 169.16L362.84 164.41L357.34 164.41zM365.34 168.07L368.09 163.32L362.59 163.32zM370.6 166.85L373.35 162.1L367.85 162.1zM375.86 165.42L378.61 160.67L373.11 160.67zM381.12 163.69L383.87 158.94L378.37 158.94zM386.37 161.3L389.12 156.55L383.62 156.55zM391.63 157.87L394.38 153.12L388.88 153.12zM396.89 151.97L399.64 147.22L394.14 147.22zM402.14 142.42L404.89 137.67L399.39 137.67zM402.41 141.73L405.16 136.98L399.66 136.98zM402.67 140.99L405.42 136.24L399.92 136.24zM402.93 140.21L405.68 135.46L400.18 135.46zM403.19 139.37L405.94 134.62L400.44 134.62zM403.46 138.45L406.21 133.7L400.71 133.7zM403.72 137.46L406.47 132.71L400.97 132.71zM403.98 136.37L406.73 131.62L401.23 131.62zM404.25 135.19L407 130.44L401.5 130.44zM404.51 133.9L407.26 129.15L401.76 129.15zM404.77 132.5L407.52 127.75L402.02 127.75zM405.03 130.88L407.78 126.13L402.28 126.13zM405.3 128.89L408.05 124.14L402.55 124.14zM405.56 126.42L408.31 121.67L402.81 121.67zM405.82 123.37L408.57 118.62L403.07 118.62zM405.93 121.95L408.68 117.2L403.18 117.2zM406.03 120.42L408.78 115.67L403.28 115.67zM406.14 118.68L408.89 113.93L403.39 113.93zM406.24 116.24L408.99 111.49L403.49 111.49zM406.35 113.21L409.1 108.46L403.6 108.46zM406.45 109.81L409.2 105.06L403.7 105.06zM406.56 106.26L409.31 101.51L403.81 101.51zM406.66 102.63L409.41 97.88L403.91 97.88zM406.77 98.56L409.52 93.81L404.02 93.81zM406.87 94.4L409.62 89.65L404.12 89.65zM406.98 90.24L409.73 85.49L404.23 85.49zM407.08 86.17L409.83 81.42L404.33 81.42zM407.19 82.54L409.94 77.79L404.44 77.79zM407.29 78.99L410.04 74.24L404.54 74.24zM407.4 75.59L410.15 70.84L404.65 70.84zM407.51 72.56L410.26 67.81L404.76 67.81zM407.61 70.12L410.36 65.37L404.86 65.37zM407.72 68.38L410.47 63.63L404.97 63.63zM407.82 66.85L410.57 62.1L405.07 62.1zM407.93 65.43L410.68 60.68L405.18 60.68zM408.03 64.13L410.78 59.38L405.28 59.38zM408.14 62.94L410.89 58.19L405.39 58.19zM408.24 61.84L410.99 57.09L405.49 57.09zM408.35 60.83L411.1 56.08L405.6 56.08zM408.45 59.91L411.2 55.16L405.7 55.16zM408.56 59.06L411.31 54.31L405.81 54.31zM408.66 58.28L411.41 53.53L405.91 53.53zM408.77 57.57L411.52 52.82L406.02 52.82zM408.87 56.91L411.62 52.16L406.12 52.16zM408.98 56.3L411.73 51.55L406.23 51.55zM409.24 54.9L411.99 50.15L406.49 50.15zM409.5 53.61L412.25 48.86L406.75 48.86zM409.77 52.43L412.52 47.68L407.02 47.68zM410.03 51.34L412.78 46.59L407.28 46.59zM410.29 50.35L413.04 45.6L407.54 45.6zM410.55 49.43L413.3 44.68L407.8 44.68zM410.82 48.59L413.57 43.84L408.07 43.84zM411.08 47.81L413.83 43.06L408.33 43.06zM411.34 47.07L414.09 42.32L408.59 42.32zM411.61 46.38L414.36 41.63L408.86 41.63zM411.87 45.73L414.62 40.98L409.12 40.98zM412.13 45.09L414.88 40.34L409.38 40.34zM412.39 44.48L415.14 39.73L409.64 39.73zM412.66 43.89L415.41 39.14L409.91 39.14zM417.91 35.45L420.66 30.7L415.16 30.7zM423.17 30.14L425.92 25.39L420.42 25.39zM428.43 26.95L431.18 22.2L425.68 22.2zM433.68 24.74L436.43 19.99L430.93 19.99zM438.94 23.08L441.69 18.33L436.19 18.33zM444.2 21.69L446.95 16.94L441.45 16.94zM449.46 20.5L452.21 15.75L446.71 15.75zM454.71 19.42L457.46 14.67L451.96 14.67zM459.97 18.37L462.72 13.62L457.22 13.62zM465.23 17.33L467.98 12.58L462.48 12.58zM470.48 16.31L473.23 11.56L467.73 11.56zM475.74 15.32L478.49 10.57L472.99 10.57zM481 14.37L483.75 9.62L478.25 9.62zM486.25 13.46L489 8.71L483.5 8.71zM491.51 12.6L494.26 7.85L488.76 7.85zM496.77 11.79L499.52 7.04L494.02 7.04zM502.03 11.04L504.78 6.29L499.28 6.29zM507.28 10.35L510.03 5.6L504.53 5.6zM512.54 9.74L515.29 4.99L509.79 4.99zM302.26 179.06L305.01 174.31L299.51 174.31zM307.52 178.45L310.27 173.7L304.77 173.7zM312.77 177.76L315.52 173.01L310.02 173.01zM318.03 177.01L320.78 172.26L315.28 172.26zM323.29 176.2L326.04 171.45L320.54 171.45zM328.54 175.34L331.29 170.59L325.79 170.59zM333.8 174.43L336.55 169.68L331.05 169.68zM339.06 173.48L341.81 168.73L336.31 168.73zM344.32 172.49L347.07 167.74L341.57 167.74zM349.57 171.47L352.32 166.72L346.82 166.72zM354.83 170.43L357.58 165.68L352.08 165.68zM360.09 169.38L362.84 164.63L357.34 164.63zM365.34 168.3L368.09 163.55L362.59 163.55zM370.6 167.11L373.35 162.36L367.85 162.36zM375.86 165.72L378.61 160.97L373.11 160.97zM381.12 164.06L383.87 159.31L378.37 159.31zM386.37 161.85L389.12 157.1L383.62 157.1zM391.63 158.66L394.38 153.91L388.88 153.91zM396.89 153.35L399.64 148.6L394.14 148.6zM402.14 144.91L404.89 140.16L399.39 140.16zM402.41 144.32L405.16 139.57L399.66 139.57zM402.67 143.71L405.42 138.96L399.92 138.96zM402.93 143.07L405.68 138.32L400.18 138.32zM403.19 142.42L405.94 137.67L400.44 137.67zM403.46 141.73L406.21 136.98L400.71 136.98zM403.72 140.99L406.47 136.24L400.97 136.24zM403.98 140.21L406.73 135.46L401.23 135.46zM404.25 139.37L407 134.62L401.5 134.62zM404.51 138.45L407.26 133.7L401.76 133.7zM404.77 137.46L407.52 132.71L402.02 132.71zM405.03 136.37L407.78 131.62L402.28 131.62zM405.3 135.19L408.05 130.44L402.55 130.44zM405.56 133.9L408.31 129.15L402.81 129.15zM405.82 132.5L408.57 127.75L403.07 127.75zM405.93 131.89L408.68 127.14L403.18 127.14zM406.03 131.23L408.78 126.48L403.28 126.48zM406.14 130.52L408.89 125.77L403.39 125.77zM406.24 129.74L408.99 124.99L403.49 124.99zM406.35 128.89L409.1 124.14L403.6 124.14zM406.45 127.97L409.2 123.22L403.7 123.22zM406.56 126.96L409.31 122.21L403.81 122.21zM406.66 125.86L409.41 121.11L403.91 121.11zM406.77 124.67L409.52 119.92L404.02 119.92zM406.87 123.37L409.62 118.62L404.12 118.62zM406.98 121.95L409.73 117.2L404.23 117.2zM407.08 120.42L409.83 115.67L404.33 115.67zM407.19 118.68L409.94 113.93L404.44 113.93zM407.29 116.24L410.04 111.49L404.54 111.49zM407.4 113.21L410.15 108.46L404.65 108.46zM407.51 109.81L410.26 105.06L404.76 105.06zM407.61 106.26L410.36 101.51L404.86 101.51zM407.72 102.63L410.47 97.88L404.97 97.88zM407.82 98.56L410.57 93.81L405.07 93.81zM407.93 94.4L410.68 89.65L405.18 89.65zM408.03 90.24L410.78 85.49L405.28 85.49zM408.14 86.17L410.89 81.42L405.39 81.42zM408.24 82.54L410.99 77.79L405.49 77.79zM408.35 78.99L411.1 74.24L405.6 74.24zM408.45 75.59L411.2 70.84L405.7 70.84zM408.56 72.56L411.31 67.81L405.81 67.81zM408.66 70.12L411.41 65.37L405.91 65.37zM408.77 68.38L411.52 63.63L406.02 63.63zM408.87 66.85L411.62 62.1L406.12 62.1zM408.98 65.43L411.73 60.68L406.23 60.68zM409.24 62.38L411.99 57.63L406.49 57.63zM409.5 59.91L412.25 55.16L406.75 55.16zM409.77 57.92L412.52 53.17L407.02 53.17zM410.03 56.3L412.78 51.55L407.28 51.55zM410.29 54.9L413.04 50.15L407.54 50.15zM410.55 53.61L413.3 48.86L407.8 48.86zM410.82 52.43L413.57 47.68L408.07 47.68zM411.08 51.34L413.83 46.59L408.33 46.59zM411.34 50.35L414.09 45.6L408.59 45.6zM411.61 49.43L414.36 44.68L408.86 44.68zM411.87 48.59L414.62 43.84L409.12 43.84zM412.13 47.81L414.88 43.06L409.38 43.06zM412.39 47.07L415.14 42.32L409.64 42.32zM412.66 46.38L415.41 41.63L409.91 41.63zM417.91 36.83L420.66 32.08L415.16 32.08zM423.17 30.93L425.92 26.18L420.42 26.18zM428.43 27.5L431.18 22.75L425.68 22.75zM433.68 25.11L436.43 20.36L430.93 20.36zM438.94 23.38L441.69 18.63L436.19 18.63zM444.2 21.95L446.95 17.2L441.45 17.2zM449.46 20.73L452.21 15.98L446.71 15.98zM454.71 19.64L457.46 14.89L451.96 14.89zM459.97 18.59L462.72 13.84L457.22 13.84zM465.23 17.53L467.98 12.78L462.48 12.78zM470.48 16.51L473.23 11.76L467.73 11.76zM475.74 15.51L478.49 10.76L472.99 10.76zM481 14.55L483.75 9.8L478.25 9.8zM486.25 13.64L489 8.89L483.5 8.89zM491.51 12.77L494.26 8.02L488.76 8.02zM496.77 11.95L499.52 7.2L494.02 7.2zM502.03 11.18L504.78 6.43L499.28 6.43zM507.28 10.49L510.03 5.74L504.53 5.74zM512.54 9.85L515.29 5.1L509.79 5.1z" fill="#dc18dc"/>
<rect x="297.05" y="2.2" width="220.65" height="178.8" fill="none" stroke="#000" stroke-width="1.8"/>
<path d="M302.26 181v-5M354.83 181v-5M407.4 181v-5M459.97 181v-5M512.54 181v-5M328.54 181v-3M381.12 181v-3M433.68 181v-3M486.25 181v-3M297.05 175.69h5M297.05 147.68h5M297.05 119.67h5M297.05 91.65h5M297.05 63.64h5M297.05 35.62h5M297.05 7.61h5M297.05 161.69h3M297.05 133.67h3M297.05 105.66h3M297.05 77.64h3M297.05 49.63h3M297.05 21.61h3" stroke="#000" stroke-width="1.5" fill="none"/>
<text x="302.26" y="191.8" font-size="9.5" text-anchor="middle" >-20</text>
<text x="354.83" y="191.8" font-size="9.5" text-anchor="middle" >-10</text>
<text x="407.4" y="191.8" font-size="9.5" text-anchor="middle" >0</text>
<text x="459.97" y="191.8" font-size="9.5" text-anchor="middle" >10</text>
<text x="512.54" y="191.8" font-size="9.5" text-anchor="middle" >20</text>
<text x="290.85" y="178.79" font-size="9.5" text-anchor="end" >-15</text>
<text x="290.85" y="150.78" font-size="9.5" text-anchor="end" >-10</text>
<text x="290.85" y="122.77" font-size="9.5" text-anchor="end" >-5</text>
<text x="290.85" y="94.75" font-size="9.5" text-anchor="end" >0</text>
<text x="290.85" y="66.73" font-size="9.5" text-anchor="end" >5</text>
<text x="290.85" y="38.72" font-size="9.5" text-anchor="end" >10</text>
<text x="290.85" y="10.71" font-size="9.5" text-anchor="end" >15</text>
<text x="407.4" y="203" font-size="10.3" text-anchor="middle" >H (k Oe)</text>
<text transform="translate(278.7,92) rotate(-90)" font-size="10.4" text-anchor="middle">M (emu/g)</text>
<text x="304.9" y="15.9" font-size="9.9" text-anchor="start" >(b)</text>
<path d="M329.5 23.7H338.7M343.9 23.7H353" stroke="#808080" stroke-width="1.1"/>
<path d="M339.2 21.6h4.2v4.2h-4.2z" fill="#000"/>
<text x="355.8" y="27.3" font-size="9.8" text-anchor="start" >0.0</text>
<path d="M329.5 36.7H338.55M344.05 36.7H353" stroke="#d88080" stroke-width="1.1"/>
<path d="M339.05 36.7a2.25 2.25 0 1 0 4.5 0a2.25 2.25 0 1 0 -4.5 0z" fill="#d81820"/>
<text x="355.8" y="40.3" font-size="9.8" text-anchor="start" >0.3</text>
<path d="M329.5 49.2H338.15M344.45 49.2H353" stroke="#8888c8" stroke-width="1.1"/>
<path d="M341.3 46.29L344.22 51.32L338.38 51.32z" fill="#1c1cc4"/>
<text x="355.8" y="52.8" font-size="9.8" text-anchor="start" >0.5</text>
<path d="M329.5 62.4H338.15M344.45 62.4H353" stroke="#e080e0" stroke-width="1.1"/>
<path d="M341.3 65.31L344.22 60.28L338.38 60.28z" fill="#dc18dc"/>
<text x="355.8" y="66" font-size="9.8" text-anchor="start" >0.6</text>
<path d="M31.05 299.7H251.8M141.6 210.1V388.9" stroke="#000" stroke-width="1.3"/>
<path d="M34.78 374.8h3.4v3.4h-3.4zM40.04 374.8h3.4v3.4h-3.4zM45.29 374.79h3.4v3.4h-3.4zM50.55 374.79h3.4v3.4h-3.4zM55.8 374.78h3.4v3.4h-3.4zM61.06 374.77h3.4v3.4h-3.4zM66.32 374.75h3.4v3.4h-3.4zM71.57 374.73h3.4v3.4h-3.4zM76.83 374.71h3.4v3.4h-3.4zM82.08 374.67h3.4v3.4h-3.4zM87.34 374.64h3.4v3.4h-3.4zM92.6 374.59h3.4v3.4h-3.4zM97.85 374.54h3.4v3.4h-3.4zM103.11 374.48h3.4v3.4h-3.4zM108.36 374.41h3.4v3.4h-3.4zM113.62 374.34h3.4v3.4h-3.4zM118.88 374.25h3.4v3.4h-3.4zM124.13 374.15h3.4v3.4h-3.4zM129.39 374.05h3.4v3.4h-3.4zM134.64 372.7h3.4v3.4h-3.4zM134.91 372.56h3.4v3.4h-3.4zM135.17 372.38h3.4v3.4h-3.4zM135.43 372.15h3.4v3.4h-3.4zM135.7 371.88h3.4v3.4h-3.4zM135.96 371.56h3.4v3.4h-3.4zM136.22 371.18h3.4v3.4h-3.4zM136.48 370.75h3.4v3.4h-3.4zM136.75 370.17h3.4v3.4h-3.4zM137.01 369.33h3.4v3.4h-3.4zM137.27 368.23h3.4v3.4h-3.4zM137.32 367.98h3.4v3.4h-3.4zM137.38 367.72h3.4v3.4h-3.4zM137.43 367.44h3.4v3.4h-3.4zM137.48 367.16h3.4v3.4h-3.4zM137.53 366.86h3.4v3.4h-3.4zM137.59 366.54h3.4v3.4h-3.4zM137.64 366.19h3.4v3.4h-3.4zM137.69 365.8h3.4v3.4h-3.4zM137.75 365.37h3.4v3.4h-3.4zM137.8 364.9h3.4v3.4h-3.4zM137.85 364.39h3.4v3.4h-3.4zM137.9 363.84h3.4v3.4h-3.4zM137.96 363.25h3.4v3.4h-3.4zM138.01 362.62h3.4v3.4h-3.4zM138.06 361.94h3.4v3.4h-3.4zM138.11 361.22h3.4v3.4h-3.4zM138.17 360.45h3.4v3.4h-3.4zM138.22 359.64h3.4v3.4h-3.4zM138.27 358.79h3.4v3.4h-3.4zM138.32 357.88h3.4v3.4h-3.4zM138.38 356.8h3.4v3.4h-3.4zM138.43 355.44h3.4v3.4h-3.4zM138.48 353.85h3.4v3.4h-3.4zM138.53 352.08h3.4v3.4h-3.4zM138.59 350.15h3.4v3.4h-3.4zM138.64 348.13h3.4v3.4h-3.4zM138.69 346.05h3.4v3.4h-3.4zM138.74 343.96h3.4v3.4h-3.4zM138.8 341.9h3.4v3.4h-3.4zM138.85 339.92h3.4v3.4h-3.4zM138.9 337.95h3.4v3.4h-3.4zM138.95 335.93h3.4v3.4h-3.4zM139.01 333.87h3.4v3.4h-3.4zM139.06 331.76h3.4v3.4h-3.4zM139.11 329.64h3.4v3.4h-3.4zM139.16 327.5h3.4v3.4h-3.4zM139.22 325.35h3.4v3.4h-3.4zM139.27 323.2h3.4v3.4h-3.4zM139.32 321.07h3.4v3.4h-3.4zM139.37 318.96h3.4v3.4h-3.4zM139.43 316.86h3.4v3.4h-3.4zM139.48 314.77h3.4v3.4h-3.4zM139.53 312.67h3.4v3.4h-3.4zM139.58 310.57h3.4v3.4h-3.4zM139.64 308.48h3.4v3.4h-3.4zM139.69 306.38h3.4v3.4h-3.4zM139.74 304.29h3.4v3.4h-3.4zM139.79 302.19h3.4v3.4h-3.4zM139.85 300.1h3.4v3.4h-3.4zM139.9 298h3.4v3.4h-3.4zM139.95 295.9h3.4v3.4h-3.4zM140.01 293.81h3.4v3.4h-3.4zM140.06 291.71h3.4v3.4h-3.4zM140.11 289.62h3.4v3.4h-3.4zM140.16 287.52h3.4v3.4h-3.4zM140.22 285.43h3.4v3.4h-3.4zM140.27 283.33h3.4v3.4h-3.4zM140.32 281.23h3.4v3.4h-3.4zM140.37 279.14h3.4v3.4h-3.4zM140.43 277.04h3.4v3.4h-3.4zM140.48 274.93h3.4v3.4h-3.4zM140.53 272.8h3.4v3.4h-3.4zM140.58 270.65h3.4v3.4h-3.4zM140.64 268.5h3.4v3.4h-3.4zM140.69 266.36h3.4v3.4h-3.4zM140.74 264.24h3.4v3.4h-3.4zM140.79 262.13h3.4v3.4h-3.4zM140.85 260.07h3.4v3.4h-3.4zM140.9 258.05h3.4v3.4h-3.4zM140.95 256.08h3.4v3.4h-3.4zM141 254.1h3.4v3.4h-3.4zM141.06 252.04h3.4v3.4h-3.4zM141.11 249.95h3.4v3.4h-3.4zM141.16 247.87h3.4v3.4h-3.4zM141.21 245.85h3.4v3.4h-3.4zM141.27 243.92h3.4v3.4h-3.4zM141.32 242.15h3.4v3.4h-3.4zM141.37 240.56h3.4v3.4h-3.4zM141.42 239.2h3.4v3.4h-3.4zM141.48 238.12h3.4v3.4h-3.4zM141.53 237.21h3.4v3.4h-3.4zM141.58 236.36h3.4v3.4h-3.4zM141.63 235.55h3.4v3.4h-3.4zM141.69 234.78h3.4v3.4h-3.4zM141.74 234.06h3.4v3.4h-3.4zM141.79 233.38h3.4v3.4h-3.4zM141.84 232.75h3.4v3.4h-3.4zM141.9 232.16h3.4v3.4h-3.4zM141.95 231.61h3.4v3.4h-3.4zM142 231.1h3.4v3.4h-3.4zM142.05 230.63h3.4v3.4h-3.4zM142.11 230.2h3.4v3.4h-3.4zM142.16 229.81h3.4v3.4h-3.4zM142.21 229.46h3.4v3.4h-3.4zM142.27 229.14h3.4v3.4h-3.4zM142.32 228.84h3.4v3.4h-3.4zM142.37 228.56h3.4v3.4h-3.4zM142.42 228.28h3.4v3.4h-3.4zM142.48 228.02h3.4v3.4h-3.4zM142.53 227.77h3.4v3.4h-3.4zM142.79 226.67h3.4v3.4h-3.4zM143.05 225.83h3.4v3.4h-3.4zM143.32 225.25h3.4v3.4h-3.4zM143.58 224.82h3.4v3.4h-3.4zM143.84 224.44h3.4v3.4h-3.4zM144.1 224.12h3.4v3.4h-3.4zM144.37 223.85h3.4v3.4h-3.4zM144.63 223.62h3.4v3.4h-3.4zM144.89 223.44h3.4v3.4h-3.4zM145.16 223.3h3.4v3.4h-3.4zM150.41 221.95h3.4v3.4h-3.4zM155.67 221.85h3.4v3.4h-3.4zM160.92 221.75h3.4v3.4h-3.4zM166.18 221.66h3.4v3.4h-3.4zM171.44 221.59h3.4v3.4h-3.4zM176.69 221.52h3.4v3.4h-3.4zM181.95 221.46h3.4v3.4h-3.4zM187.2 221.41h3.4v3.4h-3.4zM192.46 221.36h3.4v3.4h-3.4zM197.72 221.33h3.4v3.4h-3.4zM202.97 221.29h3.4v3.4h-3.4zM208.23 221.27h3.4v3.4h-3.4zM213.48 221.25h3.4v3.4h-3.4zM218.74 221.23h3.4v3.4h-3.4zM224 221.22h3.4v3.4h-3.4zM229.25 221.21h3.4v3.4h-3.4zM234.51 221.21h3.4v3.4h-3.4zM239.76 221.2h3.4v3.4h-3.4zM245.02 221.2h3.4v3.4h-3.4z" fill="#000"/>
<path d="M34.33 366.99a2.15 2.15 0 1 0 4.3 0a2.15 2.15 0 1 0 -4.3 0zM39.59 366.24a2.15 2.15 0 1 0 4.3 0a2.15 2.15 0 1 0 -4.3 0zM44.84 365.43a2.15 2.15 0 1 0 4.3 0a2.15 2.15 0 1 0 -4.3 0zM50.1 364.56a2.15 2.15 0 1 0 4.3 0a2.15 2.15 0 1 0 -4.3 0zM55.35 363.65a2.15 2.15 0 1 0 4.3 0a2.15 2.15 0 1 0 -4.3 0zM60.61 362.69a2.15 2.15 0 1 0 4.3 0a2.15 2.15 0 1 0 -4.3 0zM65.87 361.69a2.15 2.15 0 1 0 4.3 0a2.15 2.15 0 1 0 -4.3 0zM71.12 360.66a2.15 2.15 0 1 0 4.3 0a2.15 2.15 0 1 0 -4.3 0zM76.38 359.59a2.15 2.15 0 1 0 4.3 0a2.15 2.15 0 1 0 -4.3 0zM81.63 358.49a2.15 2.15 0 1 0 4.3 0a2.15 2.15 0 1 0 -4.3 0zM86.89 357.37a2.15 2.15 0 1 0 4.3 0a2.15 2.15 0 1 0 -4.3 0zM92.15 356.23a2.15 2.15 0 1 0 4.3 0a2.15 2.15 0 1 0 -4.3 0zM97.4 355.05a2.15 2.15 0 1 0 4.3 0a2.15 2.15 0 1 0 -4.3 0zM102.66 353.77a2.15 2.15 0 1 0 4.3 0a2.15 2.15 0 1 0 -4.3 0zM107.91 352.34a2.15 2.15 0 1 0 4.3 0a2.15 2.15 0 1 0 -4.3 0zM113.17 350.72a2.15 2.15 0 1 0 4.3 0a2.15 2.15 0 1 0 -4.3 0zM118.43 348.55a2.15 2.15 0 1 0 4.3 0a2.15 2.15 0 1 0 -4.3 0zM123.68 345.66a2.15 2.15 0 1 0 4.3 0a2.15 2.15 0 1 0 -4.3 0zM128.94 342.6a2.15 2.15 0 1 0 4.3 0a2.15 2.15 0 1 0 -4.3 0zM134.19 336.23a2.15 2.15 0 1 0 4.3 0a2.15 2.15 0 1 0 -4.3 0zM134.46 335.79a2.15 2.15 0 1 0 4.3 0a2.15 2.15 0 1 0 -4.3 0zM134.72 335.34a2.15 2.15 0 1 0 4.3 0a2.15 2.15 0 1 0 -4.3 0zM134.98 334.86a2.15 2.15 0 1 0 4.3 0a2.15 2.15 0 1 0 -4.3 0zM135.25 334.36a2.15 2.15 0 1 0 4.3 0a2.15 2.15 0 1 0 -4.3 0zM135.51 333.82a2.15 2.15 0 1 0 4.3 0a2.15 2.15 0 1 0 -4.3 0zM135.77 333.25a2.15 2.15 0 1 0 4.3 0a2.15 2.15 0 1 0 -4.3 0zM136.03 332.63a2.15 2.15 0 1 0 4.3 0a2.15 2.15 0 1 0 -4.3 0zM136.3 331.98a2.15 2.15 0 1 0 4.3 0a2.15 2.15 0 1 0 -4.3 0zM136.56 331.28a2.15 2.15 0 1 0 4.3 0a2.15 2.15 0 1 0 -4.3 0zM136.82 330.54a2.15 2.15 0 1 0 4.3 0a2.15 2.15 0 1 0 -4.3 0zM137.08 329.81a2.15 2.15 0 1 0 4.3 0a2.15 2.15 0 1 0 -4.3 0zM137.35 329.07a2.15 2.15 0 1 0 4.3 0a2.15 2.15 0 1 0 -4.3 0zM137.61 328.15a2.15 2.15 0 1 0 4.3 0a2.15 2.15 0 1 0 -4.3 0zM137.87 326.9a2.15 2.15 0 1 0 4.3 0a2.15 2.15 0 1 0 -4.3 0zM137.98 326.27a2.15 2.15 0 1 0 4.3 0a2.15 2.15 0 1 0 -4.3 0zM138.08 325.55a2.15 2.15 0 1 0 4.3 0a2.15 2.15 0 1 0 -4.3 0zM138.19 324.62a2.15 2.15 0 1 0 4.3 0a2.15 2.15 0 1 0 -4.3 0zM138.29 322.88a2.15 2.15 0 1 0 4.3 0a2.15 2.15 0 1 0 -4.3 0zM138.4 320.41a2.15 2.15 0 1 0 4.3 0a2.15 2.15 0 1 0 -4.3 0zM138.5 317.35a2.15 2.15 0 1 0 4.3 0a2.15 2.15 0 1 0 -4.3 0zM138.61 313.88a2.15 2.15 0 1 0 4.3 0a2.15 2.15 0 1 0 -4.3 0zM138.71 310.18a2.15 2.15 0 1 0 4.3 0a2.15 2.15 0 1 0 -4.3 0zM138.82 305.31a2.15 2.15 0 1 0 4.3 0a2.15 2.15 0 1 0 -4.3 0zM138.92 299.7a2.15 2.15 0 1 0 4.3 0a2.15 2.15 0 1 0 -4.3 0zM139.03 294.09a2.15 2.15 0 1 0 4.3 0a2.15 2.15 0 1 0 -4.3 0zM139.13 289.22a2.15 2.15 0 1 0 4.3 0a2.15 2.15 0 1 0 -4.3 0zM139.24 285.52a2.15 2.15 0 1 0 4.3 0a2.15 2.15 0 1 0 -4.3 0zM139.34 282.05a2.15 2.15 0 1 0 4.3 0a2.15 2.15 0 1 0 -4.3 0zM139.45 278.99a2.15 2.15 0 1 0 4.3 0a2.15 2.15 0 1 0 -4.3 0zM139.56 276.52a2.15 2.15 0 1 0 4.3 0a2.15 2.15 0 1 0 -4.3 0zM139.66 274.78a2.15 2.15 0 1 0 4.3 0a2.15 2.15 0 1 0 -4.3 0zM139.77 273.85a2.15 2.15 0 1 0 4.3 0a2.15 2.15 0 1 0 -4.3 0zM139.87 273.13a2.15 2.15 0 1 0 4.3 0a2.15 2.15 0 1 0 -4.3 0zM139.98 272.5a2.15 2.15 0 1 0 4.3 0a2.15 2.15 0 1 0 -4.3 0zM140.08 271.95a2.15 2.15 0 1 0 4.3 0a2.15 2.15 0 1 0 -4.3 0zM140.19 271.46a2.15 2.15 0 1 0 4.3 0a2.15 2.15 0 1 0 -4.3 0zM140.29 271.04a2.15 2.15 0 1 0 4.3 0a2.15 2.15 0 1 0 -4.3 0zM140.4 270.66a2.15 2.15 0 1 0 4.3 0a2.15 2.15 0 1 0 -4.3 0zM140.5 270.33a2.15 2.15 0 1 0 4.3 0a2.15 2.15 0 1 0 -4.3 0zM140.61 270.02a2.15 2.15 0 1 0 4.3 0a2.15 2.15 0 1 0 -4.3 0zM140.71 269.73a2.15 2.15 0 1 0 4.3 0a2.15 2.15 0 1 0 -4.3 0zM140.82 269.45a2.15 2.15 0 1 0 4.3 0a2.15 2.15 0 1 0 -4.3 0zM140.92 269.16a2.15 2.15 0 1 0 4.3 0a2.15 2.15 0 1 0 -4.3 0zM141.03 268.86a2.15 2.15 0 1 0 4.3 0a2.15 2.15 0 1 0 -4.3 0zM141.29 268.12a2.15 2.15 0 1 0 4.3 0a2.15 2.15 0 1 0 -4.3 0zM141.55 267.42a2.15 2.15 0 1 0 4.3 0a2.15 2.15 0 1 0 -4.3 0zM141.82 266.77a2.15 2.15 0 1 0 4.3 0a2.15 2.15 0 1 0 -4.3 0zM142.08 266.15a2.15 2.15 0 1 0 4.3 0a2.15 2.15 0 1 0 -4.3 0zM142.34 265.58a2.15 2.15 0 1 0 4.3 0a2.15 2.15 0 1 0 -4.3 0zM142.6 265.04a2.15 2.15 0 1 0 4.3 0a2.15 2.15 0 1 0 -4.3 0zM142.87 264.54a2.15 2.15 0 1 0 4.3 0a2.15 2.15 0 1 0 -4.3 0zM143.13 264.06a2.15 2.15 0 1 0 4.3 0a2.15 2.15 0 1 0 -4.3 0zM143.39 263.61a2.15 2.15 0 1 0 4.3 0a2.15 2.15 0 1 0 -4.3 0zM143.65 263.17a2.15 2.15 0 1 0 4.3 0a2.15 2.15 0 1 0 -4.3 0zM143.92 262.75a2.15 2.15 0 1 0 4.3 0a2.15 2.15 0 1 0 -4.3 0zM144.18 262.35a2.15 2.15 0 1 0 4.3 0a2.15 2.15 0 1 0 -4.3 0zM144.44 261.95a2.15 2.15 0 1 0 4.3 0a2.15 2.15 0 1 0 -4.3 0zM144.71 261.56a2.15 2.15 0 1 0 4.3 0a2.15 2.15 0 1 0 -4.3 0zM149.96 256.06a2.15 2.15 0 1 0 4.3 0a2.15 2.15 0 1 0 -4.3 0zM155.22 253.14a2.15 2.15 0 1 0 4.3 0a2.15 2.15 0 1 0 -4.3 0zM160.47 250.36a2.15 2.15 0 1 0 4.3 0a2.15 2.15 0 1 0 -4.3 0zM165.73 248.33a2.15 2.15 0 1 0 4.3 0a2.15 2.15 0 1 0 -4.3 0zM170.99 246.76a2.15 2.15 0 1 0 4.3 0a2.15 2.15 0 1 0 -4.3 0zM176.24 245.37a2.15 2.15 0 1 0 4.3 0a2.15 2.15 0 1 0 -4.3 0zM181.5 244.11a2.15 2.15 0 1 0 4.3 0a2.15 2.15 0 1 0 -4.3 0zM186.75 242.94a2.15 2.15 0 1 0 4.3 0a2.15 2.15 0 1 0 -4.3 0zM192.01 241.8a2.15 2.15 0 1 0 4.3 0a2.15 2.15 0 1 0 -4.3 0zM197.27 240.69a2.15 2.15 0 1 0 4.3 0a2.15 2.15 0 1 0 -4.3 0zM202.52 239.6a2.15 2.15 0 1 0 4.3 0a2.15 2.15 0 1 0 -4.3 0zM207.78 238.53a2.15 2.15 0 1 0 4.3 0a2.15 2.15 0 1 0 -4.3 0zM213.03 237.51a2.15 2.15 0 1 0 4.3 0a2.15 2.15 0 1 0 -4.3 0zM218.29 236.51a2.15 2.15 0 1 0 4.3 0a2.15 2.15 0 1 0 -4.3 0zM223.55 235.57a2.15 2.15 0 1 0 4.3 0a2.15 2.15 0 1 0 -4.3 0zM228.8 234.66a2.15 2.15 0 1 0 4.3 0a2.15 2.15 0 1 0 -4.3 0zM234.06 233.81a2.15 2.15 0 1 0 4.3 0a2.15 2.15 0 1 0 -4.3 0zM239.31 233.01a2.15 2.15 0 1 0 4.3 0a2.15 2.15 0 1 0 -4.3 0zM244.57 232.26a2.15 2.15 0 1 0 4.3 0a2.15 2.15 0 1 0 -4.3 0zM34.33 367.14a2.15 2.15 0 1 0 4.3 0a2.15 2.15 0 1 0 -4.3 0zM39.59 366.39a2.15 2.15 0 1 0 4.3 0a2.15 2.15 0 1 0 -4.3 0zM44.84 365.59a2.15 2.15 0 1 0 4.3 0a2.15 2.15 0 1 0 -4.3 0zM50.1 364.74a2.15 2.15 0 1 0 4.3 0a2.15 2.15 0 1 0 -4.3 0zM55.35 363.83a2.15 2.15 0 1 0 4.3 0a2.15 2.15 0 1 0 -4.3 0zM60.61 362.89a2.15 2.15 0 1 0 4.3 0a2.15 2.15 0 1 0 -4.3 0zM65.87 361.89a2.15 2.15 0 1 0 4.3 0a2.15 2.15 0 1 0 -4.3 0zM71.12 360.87a2.15 2.15 0 1 0 4.3 0a2.15 2.15 0 1 0 -4.3 0zM76.38 359.8a2.15 2.15 0 1 0 4.3 0a2.15 2.15 0 1 0 -4.3 0zM81.63 358.71a2.15 2.15 0 1 0 4.3 0a2.15 2.15 0 1 0 -4.3 0zM86.89 357.6a2.15 2.15 0 1 0 4.3 0a2.15 2.15 0 1 0 -4.3 0zM92.15 356.46a2.15 2.15 0 1 0 4.3 0a2.15 2.15 0 1 0 -4.3 0zM97.4 355.29a2.15 2.15 0 1 0 4.3 0a2.15 2.15 0 1 0 -4.3 0zM102.66 354.03a2.15 2.15 0 1 0 4.3 0a2.15 2.15 0 1 0 -4.3 0zM107.91 352.64a2.15 2.15 0 1 0 4.3 0a2.15 2.15 0 1 0 -4.3 0zM113.17 351.07a2.15 2.15 0 1 0 4.3 0a2.15 2.15 0 1 0 -4.3 0zM118.43 349.04a2.15 2.15 0 1 0 4.3 0a2.15 2.15 0 1 0 -4.3 0zM123.68 346.26a2.15 2.15 0 1 0 4.3 0a2.15 2.15 0 1 0 -4.3 0zM128.94 343.34a2.15 2.15 0 1 0 4.3 0a2.15 2.15 0 1 0 -4.3 0zM134.19 337.84a2.15 2.15 0 1 0 4.3 0a2.15 2.15 0 1 0 -4.3 0zM134.46 337.45a2.15 2.15 0 1 0 4.3 0a2.15 2.15 0 1 0 -4.3 0zM134.72 337.05a2.15 2.15 0 1 0 4.3 0a2.15 2.15 0 1 0 -4.3 0zM134.98 336.65a2.15 2.15 0 1 0 4.3 0a2.15 2.15 0 1 0 -4.3 0zM135.25 336.23a2.15 2.15 0 1 0 4.3 0a2.15 2.15 0 1 0 -4.3 0zM135.51 335.79a2.15 2.15 0 1 0 4.3 0a2.15 2.15 0 1 0 -4.3 0zM135.77 335.34a2.15 2.15 0 1 0 4.3 0a2.15 2.15 0 1 0 -4.3 0zM136.03 334.86a2.15 2.15 0 1 0 4.3 0a2.15 2.15 0 1 0 -4.3 0zM136.3 334.36a2.15 2.15 0 1 0 4.3 0a2.15 2.15 0 1 0 -4.3 0zM136.56 333.82a2.15 2.15 0 1 0 4.3 0a2.15 2.15 0 1 0 -4.3 0zM136.82 333.25a2.15 2.15 0 1 0 4.3 0a2.15 2.15 0 1 0 -4.3 0zM137.08 332.63a2.15 2.15 0 1 0 4.3 0a2.15 2.15 0 1 0 -4.3 0zM137.35 331.98a2.15 2.15 0 1 0 4.3 0a2.15 2.15 0 1 0 -4.3 0zM137.61 331.28a2.15 2.15 0 1 0 4.3 0a2.15 2.15 0 1 0 -4.3 0zM137.87 330.54a2.15 2.15 0 1 0 4.3 0a2.15 2.15 0 1 0 -4.3 0zM137.98 330.24a2.15 2.15 0 1 0 4.3 0a2.15 2.15 0 1 0 -4.3 0zM138.08 329.95a2.15 2.15 0 1 0 4.3 0a2.15 2.15 0 1 0 -4.3 0zM138.19 329.67a2.15 2.15 0 1 0 4.3 0a2.15 2.15 0 1 0 -4.3 0zM138.29 329.38a2.15 2.15 0 1 0 4.3 0a2.15 2.15 0 1 0 -4.3 0zM138.4 329.07a2.15 2.15 0 1 0 4.3 0a2.15 2.15 0 1 0 -4.3 0zM138.5 328.74a2.15 2.15 0 1 0 4.3 0a2.15 2.15 0 1 0 -4.3 0zM138.61 328.36a2.15 2.15 0 1 0 4.3 0a2.15 2.15 0 1 0 -4.3 0zM138.71 327.94a2.15 2.15 0 1 0 4.3 0a2.15 2.15 0 1 0 -4.3 0zM138.82 327.45a2.15 2.15 0 1 0 4.3 0a2.15 2.15 0 1 0 -4.3 0zM138.92 326.9a2.15 2.15 0 1 0 4.3 0a2.15 2.15 0 1 0 -4.3 0zM139.03 326.27a2.15 2.15 0 1 0 4.3 0a2.15 2.15 0 1 0 -4.3 0zM139.13 325.55a2.15 2.15 0 1 0 4.3 0a2.15 2.15 0 1 0 -4.3 0zM139.24 324.62a2.15 2.15 0 1 0 4.3 0a2.15 2.15 0 1 0 -4.3 0zM139.34 322.88a2.15 2.15 0 1 0 4.3 0a2.15 2.15 0 1 0 -4.3 0zM139.45 320.41a2.15 2.15 0 1 0 4.3 0a2.15 2.15 0 1 0 -4.3 0zM139.56 317.35a2.15 2.15 0 1 0 4.3 0a2.15 2.15 0 1 0 -4.3 0zM139.66 313.88a2.15 2.15 0 1 0 4.3 0a2.15 2.15 0 1 0 -4.3 0zM139.77 310.18a2.15 2.15 0 1 0 4.3 0a2.15 2.15 0 1 0 -4.3 0zM139.87 305.31a2.15 2.15 0 1 0 4.3 0a2.15 2.15 0 1 0 -4.3 0zM139.98 299.7a2.15 2.15 0 1 0 4.3 0a2.15 2.15 0 1 0 -4.3 0zM140.08 294.09a2.15 2.15 0 1 0 4.3 0a2.15 2.15 0 1 0 -4.3 0zM140.19 289.22a2.15 2.15 0 1 0 4.3 0a2.15 2.15 0 1 0 -4.3 0zM140.29 285.52a2.15 2.15 0 1 0 4.3 0a2.15 2.15 0 1 0 -4.3 0zM140.4 282.05a2.15 2.15 0 1 0 4.3 0a2.15 2.15 0 1 0 -4.3 0zM140.5 278.99a2.15 2.15 0 1 0 4.3 0a2.15 2.15 0 1 0 -4.3 0zM140.61 276.52a2.15 2.15 0 1 0 4.3 0a2.15 2.15 0 1 0 -4.3 0zM140.71 274.78a2.15 2.15 0 1 0 4.3 0a2.15 2.15 0 1 0 -4.3 0zM140.82 273.85a2.15 2.15 0 1 0 4.3 0a2.15 2.15 0 1 0 -4.3 0zM140.92 273.13a2.15 2.15 0 1 0 4.3 0a2.15 2.15 0 1 0 -4.3 0zM141.03 272.5a2.15 2.15 0 1 0 4.3 0a2.15 2.15 0 1 0 -4.3 0zM141.29 271.25a2.15 2.15 0 1 0 4.3 0a2.15 2.15 0 1 0 -4.3 0zM141.55 270.33a2.15 2.15 0 1 0 4.3 0a2.15 2.15 0 1 0 -4.3 0zM141.82 269.59a2.15 2.15 0 1 0 4.3 0a2.15 2.15 0 1 0 -4.3 0zM142.08 268.86a2.15 2.15 0 1 0 4.3 0a2.15 2.15 0 1 0 -4.3 0zM142.34 268.12a2.15 2.15 0 1 0 4.3 0a2.15 2.15 0 1 0 -4.3 0zM142.6 267.42a2.15 2.15 0 1 0 4.3 0a2.15 2.15 0 1 0 -4.3 0zM142.87 266.77a2.15 2.15 0 1 0 4.3 0a2.15 2.15 0 1 0 -4.3 0zM143.13 266.15a2.15 2.15 0 1 0 4.3 0a2.15 2.15 0 1 0 -4.3 0zM143.39 265.58a2.15 2.15 0 1 0 4.3 0a2.15 2.15 0 1 0 -4.3 0zM143.65 265.04a2.15 2.15 0 1 0 4.3 0a2.15 2.15 0 1 0 -4.3 0zM143.92 264.54a2.15 2.15 0 1 0 4.3 0a2.15 2.15 0 1 0 -4.3 0zM144.18 264.06a2.15 2.15 0 1 0 4.3 0a2.15 2.15 0 1 0 -4.3 0zM144.44 263.61a2.15 2.15 0 1 0 4.3 0a2.15 2.15 0 1 0 -4.3 0zM144.71 263.17a2.15 2.15 0 1 0 4.3 0a2.15 2.15 0 1 0 -4.3 0zM149.96 256.8a2.15 2.15 0 1 0 4.3 0a2.15 2.15 0 1 0 -4.3 0zM155.22 253.74a2.15 2.15 0 1 0 4.3 0a2.15 2.15 0 1 0 -4.3 0zM160.47 250.85a2.15 2.15 0 1 0 4.3 0a2.15 2.15 0 1 0 -4.3 0zM165.73 248.68a2.15 2.15 0 1 0 4.3 0a2.15 2.15 0 1 0 -4.3 0zM170.99 247.06a2.15 2.15 0 1 0 4.3 0a2.15 2.15 0 1 0 -4.3 0zM176.24 245.63a2.15 2.15 0 1 0 4.3 0a2.15 2.15 0 1 0 -4.3 0zM181.5 244.35a2.15 2.15 0 1 0 4.3 0a2.15 2.15 0 1 0 -4.3 0zM186.75 243.17a2.15 2.15 0 1 0 4.3 0a2.15 2.15 0 1 0 -4.3 0zM192.01 242.03a2.15 2.15 0 1 0 4.3 0a2.15 2.15 0 1 0 -4.3 0zM197.27 240.91a2.15 2.15 0 1 0 4.3 0a2.15 2.15 0 1 0 -4.3 0zM202.52 239.81a2.15 2.15 0 1 0 4.3 0a2.15 2.15 0 1 0 -4.3 0zM207.78 238.74a2.15 2.15 0 1 0 4.3 0a2.15 2.15 0 1 0 -4.3 0zM213.03 237.71a2.15 2.15 0 1 0 4.3 0a2.15 2.15 0 1 0 -4.3 0zM218.29 236.71a2.15 2.15 0 1 0 4.3 0a2.15 2.15 0 1 0 -4.3 0zM223.55 235.75a2.15 2.15 0 1 0 4.3 0a2.15 2.15 0 1 0 -4.3 0zM228.8 234.84a2.15 2.15 0 1 0 4.3 0a2.15 2.15 0 1 0 -4.3 0zM234.06 233.97a2.15 2.15 0 1 0 4.3 0a2.15 2.15 0 1 0 -4.3 0zM239.31 233.16a2.15 2.15 0 1 0 4.3 0a2.15 2.15 0 1 0 -4.3 0zM244.57 232.41a2.15 2.15 0 1 0 4.3 0a2.15 2.15 0 1 0 -4.3 0z" fill="#d81820"/>
<path d="M36.48 341.33L39.12 345.89L33.84 345.89zM41.74 340.89L44.38 345.45L39.1 345.45zM46.99 340.43L49.63 344.99L44.35 344.99zM52.25 339.93L54.89 344.49L49.61 344.49zM57.5 339.42L60.14 343.98L54.86 343.98zM62.76 338.88L65.4 343.44L60.12 343.44zM68.02 338.32L70.66 342.88L65.38 342.88zM73.27 337.74L75.91 342.3L70.63 342.3zM78.53 337.15L81.17 341.71L75.89 341.71zM83.78 336.54L86.42 341.1L81.14 341.1zM89.04 335.92L91.68 340.48L86.4 340.48zM94.3 335.3L96.94 339.86L91.66 339.86zM99.55 334.66L102.19 339.22L96.91 339.22zM104.81 333.97L107.45 338.53L102.17 338.53zM110.06 333.19L112.7 337.75L107.42 337.75zM115.32 332.29L117.96 336.85L112.68 336.85zM120.58 331.04L123.22 335.6L117.94 335.6zM125.83 329.2L128.47 333.76L123.19 333.76zM131.09 327.05L133.73 331.61L128.45 331.61zM136.34 323.41L138.98 327.97L133.7 327.97zM136.61 323.1L139.25 327.66L133.97 327.66zM136.87 322.74L139.51 327.3L134.23 327.3zM137.13 322.35L139.77 326.91L134.49 326.91zM137.4 321.9L140.04 326.46L134.76 326.46zM137.66 321.4L140.3 325.96L135.02 325.96zM137.92 320.84L140.56 325.4L135.28 325.4zM138.18 320.23L140.82 324.79L135.54 324.79zM138.45 319.56L141.09 324.12L135.81 324.12zM138.71 318.82L141.35 323.38L136.07 323.38zM138.97 318.02L141.61 322.58L136.33 322.58zM139.23 317.08L141.87 321.64L136.59 321.64zM139.5 315.9L142.14 320.46L136.86 320.46zM139.76 314.44L142.4 319L137.12 319zM140.02 312.67L142.66 317.23L137.38 317.23zM140.13 311.86L142.77 316.42L137.49 316.42zM140.23 310.99L142.87 315.55L137.59 315.55zM140.34 310.02L142.98 314.58L137.7 314.58zM140.44 308.73L143.08 313.29L137.8 313.29zM140.55 307.16L143.19 311.72L137.91 311.72zM140.65 305.39L143.29 309.95L138.01 309.95zM140.76 303.49L143.4 308.05L138.12 308.05zM140.86 301.55L143.5 306.11L138.22 306.11zM140.97 299.38L143.61 303.94L138.33 303.94zM141.07 297.06L143.71 301.62L138.43 301.62zM141.18 294.74L143.82 299.3L138.54 299.3zM141.28 292.57L143.92 297.13L138.64 297.13zM141.39 290.63L144.03 295.19L138.75 295.19zM141.49 288.73L144.13 293.29L138.85 293.29zM141.6 286.96L144.24 291.52L138.96 291.52zM141.71 285.39L144.35 289.95L139.07 289.95zM141.81 284.1L144.45 288.66L139.17 288.66zM141.92 283.13L144.56 287.69L139.28 287.69zM142.02 282.26L144.66 286.82L139.38 286.82zM142.13 281.45L144.77 286.01L139.49 286.01zM142.23 280.7L144.87 285.26L139.59 285.26zM142.34 280L144.98 284.56L139.7 284.56zM142.44 279.36L145.08 283.92L139.8 283.92zM142.55 278.77L145.19 283.33L139.91 283.33zM142.65 278.22L145.29 282.78L140.01 282.78zM142.76 277.72L145.4 282.28L140.12 282.28zM142.86 277.26L145.5 281.82L140.22 281.82zM142.97 276.84L145.61 281.4L140.33 281.4zM143.07 276.45L145.71 281.01L140.43 281.01zM143.18 276.1L145.82 280.66L140.54 280.66zM143.44 275.3L146.08 279.86L140.8 279.86zM143.7 274.56L146.34 279.12L141.06 279.12zM143.97 273.89L146.61 278.45L141.33 278.45zM144.23 273.28L146.87 277.84L141.59 277.84zM144.49 272.72L147.13 277.28L141.85 277.28zM144.75 272.22L147.39 276.78L142.11 276.78zM145.02 271.77L147.66 276.33L142.38 276.33zM145.28 271.38L147.92 275.94L142.64 275.94zM145.54 271.02L148.18 275.58L142.9 275.58zM145.8 270.71L148.44 275.27L143.16 275.27zM146.07 270.43L148.71 274.99L143.43 274.99zM146.33 270.17L148.97 274.73L143.69 274.73zM146.59 269.92L149.23 274.48L143.95 274.48zM146.86 269.68L149.5 274.24L144.22 274.24zM152.11 266.56L154.75 271.12L149.47 271.12zM157.37 264.53L160.01 269.09L154.73 269.09zM162.62 262.79L165.26 267.35L159.98 267.35zM167.88 261.64L170.52 266.2L165.24 266.2zM173.14 260.77L175.78 265.33L170.5 265.33zM178.39 260.01L181.03 264.57L175.75 264.57zM183.65 259.33L186.29 263.89L181.01 263.89zM188.9 258.7L191.54 263.26L186.26 263.26zM194.16 258.08L196.8 262.64L191.52 262.64zM199.42 257.46L202.06 262.02L196.78 262.02zM204.67 256.85L207.31 261.41L202.03 261.41zM209.93 256.26L212.57 260.82L207.29 260.82zM215.18 255.69L217.82 260.25L212.54 260.25zM220.44 255.13L223.08 259.69L217.8 259.69zM225.7 254.6L228.34 259.16L223.06 259.16zM230.95 254.08L233.59 258.64L228.31 258.64zM236.21 253.6L238.85 258.16L233.57 258.16zM241.46 253.14L244.1 257.7L238.82 257.7zM246.72 252.71L249.36 257.27L244.08 257.27zM36.48 341.41L39.12 345.97L33.84 345.97zM41.74 340.98L44.38 345.54L39.1 345.54zM46.99 340.52L49.63 345.08L44.35 345.08zM52.25 340.04L54.89 344.6L49.61 344.6zM57.5 339.52L60.14 344.08L54.86 344.08zM62.76 338.99L65.4 343.55L60.12 343.55zM68.02 338.43L70.66 342.99L65.38 342.99zM73.27 337.86L75.91 342.42L70.63 342.42zM78.53 337.27L81.17 341.83L75.89 341.83zM83.78 336.66L86.42 341.22L81.14 341.22zM89.04 336.04L91.68 340.6L86.4 340.6zM94.3 335.42L96.94 339.98L91.66 339.98zM99.55 334.79L102.19 339.35L96.91 339.35zM104.81 334.11L107.45 338.67L102.17 338.67zM110.06 333.35L112.7 337.91L107.42 337.91zM115.32 332.48L117.96 337.04L112.68 337.04zM120.58 331.33L123.22 335.89L117.94 335.89zM125.83 329.59L128.47 334.15L123.19 334.15zM131.09 327.56L133.73 332.12L128.45 332.12zM136.34 324.44L138.98 329L133.7 329zM136.61 324.2L139.25 328.76L133.97 328.76zM136.87 323.95L139.51 328.51L134.23 328.51zM137.13 323.69L139.77 328.25L134.49 328.25zM137.4 323.41L140.04 327.97L134.76 327.97zM137.66 323.1L140.3 327.66L135.02 327.66zM137.92 322.74L140.56 327.3L135.28 327.3zM138.18 322.35L140.82 326.91L135.54 326.91zM138.45 321.9L141.09 326.46L135.81 326.46zM138.71 321.4L141.35 325.96L136.07 325.96zM138.97 320.84L141.61 325.4L136.33 325.4zM139.23 320.23L141.87 324.79L136.59 324.79zM139.5 319.56L142.14 324.12L136.86 324.12zM139.76 318.82L142.4 323.38L137.12 323.38zM140.02 318.02L142.66 322.58L137.38 322.58zM140.13 317.67L142.77 322.23L137.49 322.23zM140.23 317.28L142.87 321.84L137.59 321.84zM140.34 316.86L142.98 321.42L137.7 321.42zM140.44 316.4L143.08 320.96L137.8 320.96zM140.55 315.9L143.19 320.46L137.91 320.46zM140.65 315.35L143.29 319.91L138.01 319.91zM140.76 314.76L143.4 319.32L138.12 319.32zM140.86 314.12L143.5 318.68L138.22 318.68zM140.97 313.42L143.61 317.98L138.33 317.98zM141.07 312.67L143.71 317.23L138.43 317.23zM141.18 311.86L143.82 316.42L138.54 316.42zM141.28 310.99L143.92 315.55L138.64 315.55zM141.39 310.02L144.03 314.58L138.75 314.58zM141.49 308.73L144.13 313.29L138.85 313.29zM141.6 307.16L144.24 311.72L138.96 311.72zM141.71 305.39L144.35 309.95L139.07 309.95zM141.81 303.49L144.45 308.05L139.17 308.05zM141.92 301.55L144.56 306.11L139.28 306.11zM142.02 299.38L144.66 303.94L139.38 303.94zM142.13 297.06L144.77 301.62L139.49 301.62zM142.23 294.74L144.87 299.3L139.59 299.3zM142.34 292.57L144.98 297.13L139.7 297.13zM142.44 290.63L145.08 295.19L139.8 295.19zM142.55 288.73L145.19 293.29L139.91 293.29zM142.65 286.96L145.29 291.52L140.01 291.52zM142.76 285.39L145.4 289.95L140.12 289.95zM142.86 284.1L145.5 288.66L140.22 288.66zM142.97 283.13L145.61 287.69L140.33 287.69zM143.07 282.26L145.71 286.82L140.43 286.82zM143.18 281.45L145.82 286.01L140.54 286.01zM143.44 279.68L146.08 284.24L140.8 284.24zM143.7 278.22L146.34 282.78L141.06 282.78zM143.97 277.04L146.61 281.6L141.33 281.6zM144.23 276.1L146.87 280.66L141.59 280.66zM144.49 275.3L147.13 279.86L141.85 279.86zM144.75 274.56L147.39 279.12L142.11 279.12zM145.02 273.89L147.66 278.45L142.38 278.45zM145.28 273.28L147.92 277.84L142.64 277.84zM145.54 272.72L148.18 277.28L142.9 277.28zM145.8 272.22L148.44 276.78L143.16 276.78zM146.07 271.77L148.71 276.33L143.43 276.33zM146.33 271.38L148.97 275.94L143.69 275.94zM146.59 271.02L149.23 275.58L143.95 275.58zM146.86 270.71L149.5 275.27L144.22 275.27zM152.11 267.07L154.75 271.63L149.47 271.63zM157.37 264.92L160.01 269.48L154.73 269.48zM162.62 263.08L165.26 267.64L159.98 267.64zM167.88 261.83L170.52 266.39L165.24 266.39zM173.14 260.93L175.78 265.49L170.5 265.49zM178.39 260.15L181.03 264.71L175.75 264.71zM183.65 259.46L186.29 264.02L181.01 264.02zM188.9 258.82L191.54 263.38L186.26 263.38zM194.16 258.2L196.8 262.76L191.52 262.76zM199.42 257.58L202.06 262.14L196.78 262.14zM204.67 256.97L207.31 261.53L202.03 261.53zM209.93 256.38L212.57 260.94L207.29 260.94zM215.18 255.8L217.82 260.36L212.54 260.36zM220.44 255.24L223.08 259.8L217.8 259.8zM225.7 254.7L228.34 259.26L223.06 259.26zM230.95 254.19L233.59 258.75L228.31 258.75zM236.21 253.69L238.85 258.25L233.57 258.25zM241.46 253.23L244.1 257.79L238.82 257.79zM246.72 252.79L249.36 257.35L244.08 257.35z" fill="#1c1cc4"/>
<path d="M36.48 328.21L39.12 323.65L33.84 323.65zM41.74 327.63L44.38 323.07L39.1 323.07zM46.99 326.99L49.63 322.43L44.35 322.43zM52.25 326.31L54.89 321.75L49.61 321.75zM57.5 325.59L60.14 321.03L54.86 321.03zM62.76 324.83L65.4 320.27L60.12 320.27zM68.02 324.03L70.66 319.47L65.38 319.47zM73.27 323.2L75.91 318.64L70.63 318.64zM78.53 322.34L81.17 317.78L75.89 317.78zM83.78 321.46L86.42 316.9L81.14 316.9zM89.04 320.56L91.68 316L86.4 316zM94.3 319.65L96.94 315.09L91.66 315.09zM99.55 318.71L102.19 314.15L96.91 314.15zM104.81 317.69L107.45 313.13L102.17 313.13zM110.06 316.51L112.7 311.95L107.42 311.95zM115.32 315.14L117.96 310.58L112.68 310.58zM120.58 313.17L123.22 308.61L117.94 308.61zM125.83 311.23L128.47 306.67L123.19 306.67zM131.09 309.27L133.73 304.71L128.45 304.71zM136.34 306.66L138.98 302.1L133.7 302.1zM136.87 306.29L139.51 301.73L134.23 301.73zM137.4 305.88L140.04 301.32L134.76 301.32zM137.92 305.44L140.56 300.88L135.28 300.88zM138.45 304.98L141.09 300.42L135.81 300.42zM138.97 304.5L141.61 299.94L136.33 299.94zM139.5 304.01L142.14 299.45L136.86 299.45zM140.02 303.52L142.66 298.96L137.38 298.96zM140.13 303.42L142.77 298.86L137.49 298.86zM140.23 303.33L142.87 298.77L137.59 298.77zM140.34 303.23L142.98 298.67L137.7 298.67zM140.44 303.13L143.08 298.57L137.8 298.57zM140.55 303.04L143.19 298.48L137.91 298.48zM140.65 302.94L143.29 298.38L138.01 298.38zM140.76 302.85L143.4 298.29L138.12 298.29zM140.86 302.75L143.5 298.19L138.22 298.19zM140.97 302.66L143.61 298.1L138.33 298.1zM141.07 302.57L143.71 298.01L138.43 298.01zM141.18 302.48L143.82 297.92L138.54 297.92zM141.28 302.39L143.92 297.83L138.64 297.83zM141.39 302.29L144.03 297.73L138.75 297.73zM141.49 302.2L144.13 297.64L138.85 297.64zM141.6 302.11L144.24 297.55L138.96 297.55zM141.71 302.02L144.35 297.46L139.07 297.46zM141.81 301.93L144.45 297.37L139.17 297.37zM141.92 301.83L144.56 297.27L139.28 297.27zM142.02 301.74L144.66 297.18L139.38 297.18zM142.13 301.64L144.77 297.08L139.49 297.08zM142.23 301.55L144.87 296.99L139.59 296.99zM142.34 301.45L144.98 296.89L139.7 296.89zM142.44 301.35L145.08 296.79L139.8 296.79zM142.55 301.26L145.19 296.7L139.91 296.7zM142.65 301.16L145.29 296.6L140.01 296.6zM142.76 301.06L145.4 296.5L140.12 296.5zM142.86 300.96L145.5 296.4L140.22 296.4zM142.97 300.87L145.61 296.31L140.33 296.31zM143.07 300.77L145.71 296.21L140.43 296.21zM143.18 300.67L145.82 296.11L140.54 296.11zM143.7 300.18L146.34 295.62L141.06 295.62zM144.23 299.7L146.87 295.14L141.59 295.14zM144.75 299.24L147.39 294.68L142.11 294.68zM145.28 298.8L147.92 294.24L142.64 294.24zM145.8 298.39L148.44 293.83L143.16 293.83zM146.33 298.02L148.97 293.46L143.69 293.46zM146.86 297.69L149.5 293.13L144.22 293.13zM152.11 295.2L154.75 290.64L149.47 290.64zM157.37 293.26L160.01 288.7L154.73 288.7zM162.62 291.31L165.26 286.75L159.98 286.75zM167.88 289.39L170.52 284.83L165.24 284.83zM173.14 288.04L175.78 283.48L170.5 283.48zM178.39 286.89L181.03 282.33L175.75 282.33zM183.65 285.87L186.29 281.31L181.01 281.31zM188.9 284.94L191.54 280.38L186.26 280.38zM194.16 284.03L196.8 279.47L191.52 279.47zM199.42 283.13L202.06 278.57L196.78 278.57zM204.67 282.25L207.31 277.69L202.03 277.69zM209.93 281.4L212.57 276.84L207.29 276.84zM215.18 280.57L217.82 276.01L212.54 276.01zM220.44 279.77L223.08 275.21L217.8 275.21zM225.7 279.02L228.34 274.46L223.06 274.46zM230.95 278.3L233.59 273.74L228.31 273.74zM236.21 277.62L238.85 273.06L233.57 273.06zM241.46 276.99L244.1 272.43L238.82 272.43zM246.72 276.41L249.36 271.85L244.08 271.85zM36.48 328.27L39.12 323.71L33.84 323.71zM41.74 327.69L44.38 323.13L39.1 323.13zM46.99 327.06L49.63 322.5L44.35 322.5zM52.25 326.38L54.89 321.82L49.61 321.82zM57.5 325.66L60.14 321.1L54.86 321.1zM62.76 324.91L65.4 320.35L60.12 320.35zM68.02 324.11L70.66 319.55L65.38 319.55zM73.27 323.28L75.91 318.72L70.63 318.72zM78.53 322.43L81.17 317.87L75.89 317.87zM83.78 321.55L86.42 316.99L81.14 316.99zM89.04 320.65L91.68 316.09L86.4 316.09zM94.3 319.74L96.94 315.18L91.66 315.18zM99.55 318.81L102.19 314.25L96.91 314.25zM104.81 317.79L107.45 313.23L102.17 313.23zM110.06 316.64L112.7 312.08L107.42 312.08zM115.32 315.29L117.96 310.73L112.68 310.73zM120.58 313.37L123.22 308.81L117.94 308.81zM125.83 311.42L128.47 306.86L123.19 306.86zM131.09 309.48L133.73 304.92L128.45 304.92zM136.34 306.99L138.98 302.43L133.7 302.43zM136.87 306.66L139.51 302.1L134.23 302.1zM137.4 306.29L140.04 301.73L134.76 301.73zM137.92 305.88L140.56 301.32L135.28 301.32zM138.45 305.44L141.09 300.88L135.81 300.88zM138.97 304.98L141.61 300.42L136.33 300.42zM139.5 304.5L142.14 299.94L136.86 299.94zM140.02 304.01L142.66 299.45L137.38 299.45zM140.13 303.91L142.77 299.35L137.49 299.35zM140.23 303.81L142.87 299.25L137.59 299.25zM140.34 303.72L142.98 299.16L137.7 299.16zM140.44 303.62L143.08 299.06L137.8 299.06zM140.55 303.52L143.19 298.96L137.91 298.96zM140.65 303.42L143.29 298.86L138.01 298.86zM140.76 303.33L143.4 298.77L138.12 298.77zM140.86 303.23L143.5 298.67L138.22 298.67zM140.97 303.13L143.61 298.57L138.33 298.57zM141.07 303.04L143.71 298.48L138.43 298.48zM141.18 302.94L143.82 298.38L138.54 298.38zM141.28 302.85L143.92 298.29L138.64 298.29zM141.39 302.75L144.03 298.19L138.75 298.19zM141.49 302.66L144.13 298.1L138.85 298.1zM141.6 302.57L144.24 298.01L138.96 298.01zM141.71 302.48L144.35 297.92L139.07 297.92zM141.81 302.39L144.45 297.83L139.17 297.83zM141.92 302.29L144.56 297.73L139.28 297.73zM142.02 302.2L144.66 297.64L139.38 297.64zM142.13 302.11L144.77 297.55L139.49 297.55zM142.23 302.02L144.87 297.46L139.59 297.46zM142.34 301.93L144.98 297.37L139.7 297.37zM142.44 301.83L145.08 297.27L139.8 297.27zM142.55 301.74L145.19 297.18L139.91 297.18zM142.65 301.64L145.29 297.08L140.01 297.08zM142.76 301.55L145.4 296.99L140.12 296.99zM142.86 301.45L145.5 296.89L140.22 296.89zM142.97 301.35L145.61 296.79L140.33 296.79zM143.07 301.26L145.71 296.7L140.43 296.7zM143.18 301.16L145.82 296.6L140.54 296.6zM143.7 300.67L146.34 296.11L141.06 296.11zM144.23 300.18L146.87 295.62L141.59 295.62zM144.75 299.7L147.39 295.14L142.11 295.14zM145.28 299.24L147.92 294.68L142.64 294.68zM145.8 298.8L148.44 294.24L143.16 294.24zM146.33 298.39L148.97 293.83L143.69 293.83zM146.86 298.02L149.5 293.46L144.22 293.46zM152.11 295.41L154.75 290.85L149.47 290.85zM157.37 293.45L160.01 288.89L154.73 288.89zM162.62 291.51L165.26 286.95L159.98 286.95zM167.88 289.54L170.52 284.98L165.24 284.98zM173.14 288.17L175.78 283.61L170.5 283.61zM178.39 286.99L181.03 282.43L175.75 282.43zM183.65 285.97L186.29 281.41L181.01 281.41zM188.9 285.03L191.54 280.47L186.26 280.47zM194.16 284.12L196.8 279.56L191.52 279.56zM199.42 283.22L202.06 278.66L196.78 278.66zM204.67 282.34L207.31 277.78L202.03 277.78zM209.93 281.48L212.57 276.92L207.29 276.92zM215.18 280.65L217.82 276.09L212.54 276.09zM220.44 279.85L223.08 275.29L217.8 275.29zM225.7 279.09L228.34 274.53L223.06 274.53zM230.95 278.37L233.59 273.81L228.31 273.81zM236.21 277.69L238.85 273.13L233.57 273.13zM241.46 277.05L244.1 272.49L238.82 272.49zM246.72 276.47L249.36 271.91L244.08 271.91z" fill="#dc18dc"/>
<rect x="31.05" y="210.1" width="220.75" height="178.8" fill="none" stroke="#000" stroke-width="1.8"/>
<path d="M36.48 388.9v-5M89.04 388.9v-5M141.6 388.9v-5M194.16 388.9v-5M246.72 388.9v-5M62.76 388.9v-3M115.32 388.9v-3M167.88 388.9v-3M220.44 388.9v-3M31.05 389.52h5M31.05 359.58h5M31.05 329.64h5M31.05 299.7h5M31.05 269.76h5M31.05 239.82h5M31.05 209.88h5M31.05 374.55h3M31.05 344.61h3M31.05 314.67h3M31.05 284.73h3M31.05 254.79h3M31.05 224.85h3" stroke="#000" stroke-width="1.5" fill="none"/>
<text x="36.48" y="402.9" font-size="9.5" text-anchor="middle" >-20</text>
<text x="89.04" y="402.9" font-size="9.5" text-anchor="middle" >-10</text>
<text x="141.6" y="402.9" font-size="9.5" text-anchor="middle" >0</text>
<text x="194.16" y="402.9" font-size="9.5" text-anchor="middle" >10</text>
<text x="246.72" y="402.9" font-size="9.5" text-anchor="middle" >20</text>
<text x="24.85" y="392.62" font-size="9.5" text-anchor="end" >-30</text>
<text x="24.85" y="362.68" font-size="9.5" text-anchor="end" >-20</text>
<text x="24.85" y="332.74" font-size="9.5" text-anchor="end" >-10</text>
<text x="24.85" y="302.8" font-size="9.5" text-anchor="end" >0</text>
<text x="24.85" y="272.86" font-size="9.5" text-anchor="end" >10</text>
<text x="24.85" y="242.92" font-size="9.5" text-anchor="end" >20</text>
<text x="24.85" y="212.98" font-size="9.5" text-anchor="end" >30</text>
<text x="141.4" y="411.4" font-size="10.3" text-anchor="middle" >H (k Oe)</text>
<text transform="translate(12.2,298.9) rotate(-90)" font-size="10.4" text-anchor="middle">M (emu/g)</text>
<text x="37.2" y="220.7" font-size="9.9" text-anchor="start" >(c)</text>
<path d="M64.5 231.6H74.1M79.3 231.6H88.7" stroke="#808080" stroke-width="1.1"/>
<path d="M74.6 229.5h4.2v4.2h-4.2z" fill="#000"/>
<text x="91.1" y="235.2" font-size="9.8" text-anchor="start" >0.0</text>
<path d="M64.5 244.9H73.95M79.45 244.9H88.7" stroke="#d88080" stroke-width="1.1"/>
<path d="M74.45 244.9a2.25 2.25 0 1 0 4.5 0a2.25 2.25 0 1 0 -4.5 0z" fill="#d81820"/>
<text x="91.1" y="248.5" font-size="9.8" text-anchor="start" >0.3</text>
<path d="M64.5 257.8H73.55M79.85 257.8H88.7" stroke="#8888c8" stroke-width="1.1"/>
<path d="M76.7 254.89L79.62 259.92L73.78 259.92z" fill="#1c1cc4"/>
<text x="91.1" y="261.4" font-size="9.8" text-anchor="start" >0.5</text>
<path d="M64.5 270.5H73.55M79.85 270.5H88.7" stroke="#e080e0" stroke-width="1.1"/>
<path d="M76.7 273.42L79.62 268.38L73.78 268.38z" fill="#dc18dc"/>
<text x="91.1" y="274.1" font-size="9.8" text-anchor="start" >0.6</text>
<rect x="297.15" y="213" width="220.65" height="178.9" fill="none" stroke="#000" stroke-width="1.8"/>
<path d="M307.15 391.9v-5M340.61 391.9v-5M374.07 391.9v-5M407.53 391.9v-5M440.99 391.9v-5M474.45 391.9v-5M507.91 391.9v-5M323.88 391.9v-3M357.34 391.9v-3M390.8 391.9v-3M424.26 391.9v-3M457.72 391.9v-3M491.18 391.9v-3M297.15 384.12h5M297.15 367.01h5M297.15 349.9h5M297.15 332.78h5M297.15 315.67h5M297.15 298.56h5M297.15 281.45h5M297.15 264.34h5M297.15 247.22h5M297.15 230.11h5M297.15 213h5M297.15 375.56h3M297.15 358.45h3M297.15 341.34h3M297.15 324.23h3M297.15 307.12h3M297.15 290h3M297.15 272.89h3M297.15 255.78h3M297.15 238.67h3M297.15 221.56h3" stroke="#000" stroke-width="1.5" fill="none"/>
<text x="307.15" y="402.6" font-size="9.5" text-anchor="middle" >0.0</text>
<text x="340.61" y="402.6" font-size="9.5" text-anchor="middle" >0.1</text>
<text x="374.07" y="402.6" font-size="9.5" text-anchor="middle" >0.2</text>
<text x="407.53" y="402.6" font-size="9.5" text-anchor="middle" >0.3</text>
<text x="440.99" y="402.6" font-size="9.5" text-anchor="middle" >0.4</text>
<text x="474.45" y="402.6" font-size="9.5" text-anchor="middle" >0.5</text>
<text x="507.91" y="402.6" font-size="9.5" text-anchor="middle" >0.6</text>
<text x="290.95" y="387.22" font-size="9.5" text-anchor="end" >8</text>
<text x="290.95" y="370.11" font-size="9.5" text-anchor="end" >10</text>
<text x="290.95" y="353" font-size="9.5" text-anchor="end" >12</text>
<text x="290.95" y="335.88" font-size="9.5" text-anchor="end" >14</text>
<text x="290.95" y="318.77" font-size="9.5" text-anchor="end" >16</text>
<text x="290.95" y="301.66" font-size="9.5" text-anchor="end" >18</text>
<text x="290.95" y="284.55" font-size="9.5" text-anchor="end" >20</text>
<text x="290.95" y="267.44" font-size="9.5" text-anchor="end" >22</text>
<text x="290.95" y="250.32" font-size="9.5" text-anchor="end" >24</text>
<text x="290.95" y="233.21" font-size="9.5" text-anchor="end" >26</text>
<text x="290.95" y="216.1" font-size="9.5" text-anchor="end" >28</text>
<text x="407" y="414.6" font-size="10.5" text-anchor="middle" >ZnO Concentration</text>
<text transform="translate(274.6,299.2) rotate(-90)" font-size="10.4" text-anchor="middle">M (emu/g)</text>
<text x="303.7" y="224.2" font-size="9.9" text-anchor="start" >(d)</text>
<path d="M307.15 272.72L407.53 325L474.45 358.11L507.91 366.41" stroke="#111" stroke-width="1.4" stroke-dasharray="1.4 1.3" fill="none"/>
<path d="M307.15 358.79L407.53 322.43L474.45 336.21L507.91 323.12" stroke="#c8202a" stroke-width="1.3" stroke-dasharray="4 2.5" fill="none"/>
<path d="M314.93 233.62L404.61 255.33" stroke="#2626ac" stroke-width="1.4" stroke-dasharray="1.4 2.6 7 2.6" fill="none"/><path d="M412.96 261.91L472.41 326.22" stroke="#2626ac" stroke-width="1.4" stroke-dasharray="1.4 2.6 7 2.6" fill="none"/><path d="M478.91 335.06L506.24 375.81" stroke="#2626ac" stroke-width="1.4" stroke-dasharray="1.4 2.6 7 2.6" fill="none"/>
<defs><radialGradient id="sph" cx="0.5" cy="0.5" fx="0.42" fy="0.32" r="0.55"><stop offset="0" stop-color="#d8d8d8"/><stop offset="0.3" stop-color="#707070"/><stop offset="0.65" stop-color="#151515"/><stop offset="1" stop-color="#000"/></radialGradient></defs>
<circle cx="307.15" cy="272.72" r="2.9" fill="url(#sph)"/>
<circle cx="407.53" cy="325" r="2.9" fill="url(#sph)"/>
<circle cx="474.45" cy="358.11" r="2.9" fill="url(#sph)"/>
<circle cx="507.91" cy="366.41" r="2.9" fill="url(#sph)"/>
<circle cx="307.15" cy="358.79" r="2.5" fill="#fff" stroke="#c8202a" stroke-width="1"/>
<circle cx="407.53" cy="322.43" r="2.5" fill="#fff" stroke="#c8202a" stroke-width="1"/>
<circle cx="474.45" cy="336.21" r="2.5" fill="#fff" stroke="#c8202a" stroke-width="1"/>
<circle cx="507.91" cy="323.12" r="2.5" fill="#fff" stroke="#c8202a" stroke-width="1"/>
<rect x="304.75" y="229.34" width="4.8" height="4.8" fill="#1a1ad0"/>
<rect x="405.13" y="253.64" width="4.8" height="4.8" fill="#1a1ad0"/>
<rect x="472.05" y="326.02" width="4.8" height="4.8" fill="#1a1ad0"/>
<rect x="505.51" y="375.9" width="4.8" height="4.8" fill="#1a1ad0"/>
<path d="M451 226.8H475.3" stroke="#111" stroke-width="1.3" stroke-dasharray="1.3 1.2"/>
<circle cx="463.7" cy="226.8" r="2.7" fill="url(#sph)"/>
<path d="M451 242H475.3" stroke="#c8202a" stroke-width="1.2" stroke-dasharray="3.5 2"/>
<circle cx="463.7" cy="242" r="2.4" fill="#fff" stroke="#c8202a" stroke-width="1"/>
<path d="M451 256.7H459M468.4 256.7H475.3" stroke="#2626ac" stroke-width="1.4" stroke-dasharray="6 2.4 1.4 2.4"/>
<rect x="461.3" y="254.3" width="4.8" height="4.8" fill="#1a1ad0"/>
<text x="478" y="229.9" font-size="10" text-anchor="start" >AP</text>
<text x="478" y="244.9" font-size="10" text-anchor="start" >600 <tspan font-size="5" dx="0.3" dy="-5.6">o</tspan><tspan dx="0.6" dy="5.6">C</tspan></text>
<text x="478" y="259.7" font-size="10" text-anchor="start" >1200 <tspan font-size="5" dx="0.3" dy="-5.6">o</tspan><tspan dx="0.6" dy="5.6">C</tspan></text>
</g></svg>
</body></html>
